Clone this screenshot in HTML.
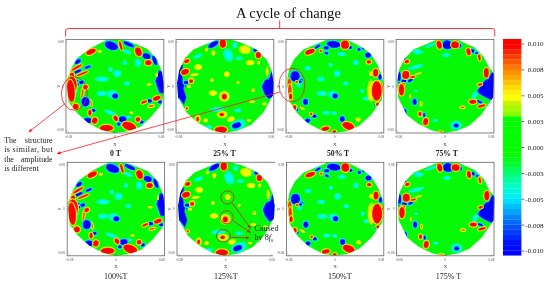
<!DOCTYPE html>
<html><head><meta charset="utf-8"><title>A cycle of change</title>
<style>
html,body{margin:0;padding:0;background:#fff;}
body{width:550px;height:286px;overflow:hidden;}
svg{display:block;font-family:"Liberation Serif","DejaVu Serif",serif;}
</style></head><body>
<svg width="550" height="286" viewBox="0 0 550 286">
<rect width="550" height="286" fill="#fff"/>
<defs>
<radialGradient id="gr"><stop offset="0" stop-color="#ff0000"/><stop offset="0.55" stop-color="#ff0000"/><stop offset="0.68" stop-color="#ff7000"/><stop offset="0.8" stop-color="#ffe800"/><stop offset="0.9" stop-color="#a0ff00"/><stop offset="1" stop-color="#30ff00" stop-opacity="0"/></radialGradient>
<radialGradient id="go"><stop offset="0" stop-color="#ff3000"/><stop offset="0.35" stop-color="#ff6000"/><stop offset="0.65" stop-color="#ffe000"/><stop offset="0.85" stop-color="#a0ff00"/><stop offset="1" stop-color="#30ff00" stop-opacity="0"/></radialGradient>
<radialGradient id="gb"><stop offset="0" stop-color="#0000ff"/><stop offset="0.58" stop-color="#0000ff"/><stop offset="0.7" stop-color="#0080ff"/><stop offset="0.82" stop-color="#00f0ff"/><stop offset="0.92" stop-color="#00ffa0"/><stop offset="1" stop-color="#00ff40" stop-opacity="0"/></radialGradient>
<radialGradient id="gy"><stop offset="0" stop-color="#fff000"/><stop offset="0.55" stop-color="#f4f600"/><stop offset="0.8" stop-color="#a8ff00"/><stop offset="1" stop-color="#30ff00" stop-opacity="0"/></radialGradient>
<radialGradient id="gc"><stop offset="0" stop-color="#00ffff"/><stop offset="0.5" stop-color="#00ffe0"/><stop offset="0.8" stop-color="#00ff88"/><stop offset="1" stop-color="#00ff30" stop-opacity="0"/></radialGradient>
<filter id="bl" x="-5%" y="-5%" width="110%" height="110%"><feGaussianBlur stdDeviation="0.4"/></filter>
<marker id="ah" viewBox="0 0 10 10" refX="9" refY="5" markerWidth="5" markerHeight="5" orient="auto"><path d="M0,1 L10,5 L0,9 z" fill="#ff1a1a"/></marker>
<marker id="ah2" viewBox="0 0 10 10" refX="9" refY="5" markerWidth="5" markerHeight="5" orient="auto"><path d="M0,1 L10,5 L0,9 z" fill="#c8281a"/></marker>
</defs>
<g transform="translate(66.0,39.5)">
<clipPath id="cl1"><polygon points="41.4,0.1 54.5,0.1 62.1,1.4 80.6,9.0 90.5,18.9 95.9,32.0 97.7,45.0 97.7,51.4 95.9,64.5 85.0,77.6 74.1,87.4 61.0,92.0 47.9,93.5 34.8,90.2 21.7,83.0 10.8,73.2 2.5,62.3 1.0,47.0 1.0,40.7 5.4,28.7 10.8,18.9 23.9,9.0"/></clipPath>
<polygon points="41.4,0.1 54.5,0.1 62.1,1.4 80.6,9.0 90.5,18.9 95.9,32.0 97.7,45.0 97.7,51.4 95.9,64.5 85.0,77.6 74.1,87.4 61.0,92.0 47.9,93.5 34.8,90.2 21.7,83.0 10.8,73.2 2.5,62.3 1.0,47.0 1.0,40.7 5.4,28.7 10.8,18.9 23.9,9.0" fill="#06f906"/>
<g clip-path="url(#cl1)"><g filter="url(#bl)">
<polygon points="92.0,30.9 98.1,33.0 98.1,54.0 92.4,53.2 88.5,41.6 88.5,41.8" fill="#00e8ff" stroke="#00ffb0" stroke-width="1.0" stroke-linejoin="round"/>
<polygon points="92.0,30.9 98.1,33.0 98.1,54.0 92.4,53.2 88.5,41.6 88.5,41.8" fill="#0000ff" stroke="#0060ff" stroke-width="0.5" transform="translate(0.9,0)"/>
<ellipse cx="51.2" cy="34.1" rx="5.1" ry="4.4" fill="url(#gc)"/>
<ellipse cx="71.9" cy="23.2" rx="4.1" ry="5.1" fill="url(#gc)"/>
<ellipse cx="35.9" cy="39.6" rx="8.2" ry="3.2" fill="url(#gc)"/>
<ellipse cx="61.0" cy="44.0" rx="3.5" ry="2.8" fill="url(#gc)"/>
<ellipse cx="44.6" cy="29.8" rx="2.8" ry="2.8" fill="url(#gc)"/>
<ellipse cx="58.8" cy="23.2" rx="2.8" ry="2.8" fill="url(#gc)"/>
<ellipse cx="61.0" cy="12.3" rx="5.7" ry="2.5" fill="url(#gc)" transform="rotate(20 61.0 12.3)"/>
<ellipse cx="9.1" cy="52.5" rx="1.9" ry="7.0" fill="url(#gc)"/>
<ellipse cx="63.2" cy="77.6" rx="3.2" ry="1.9" fill="url(#gc)"/>
<ellipse cx="46.2" cy="54.9" rx="6.3" ry="5.1" fill="url(#gc)"/>
<ellipse cx="35.9" cy="54.0" rx="6.6" ry="3.2" fill="url(#gc)"/>
<ellipse cx="44.6" cy="73.2" rx="8.2" ry="2.5" fill="url(#gc)" transform="rotate(20 44.6 73.2)"/>
<ellipse cx="33.7" cy="11.9" rx="2.5" ry="1.9" fill="url(#gy)"/>
<ellipse cx="83.3" cy="45.0" rx="2.8" ry="1.6" fill="url(#gy)"/>
<ellipse cx="90.7" cy="35.2" rx="1.6" ry="2.8" fill="url(#gy)"/>
<ellipse cx="82.8" cy="44.9" rx="2.8" ry="1.3" fill="url(#gy)"/>
<ellipse cx="65.4" cy="73.2" rx="2.5" ry="1.6" fill="url(#gy)"/>
<g transform="rotate(10 16.7 52.5)"><ellipse cx="16.7" cy="52.5" rx="2.06" ry="7.30" fill="#a0ff00"/><ellipse cx="16.7" cy="52.5" rx="1.56" ry="6.80" fill="#ffe800"/><ellipse cx="16.7" cy="52.5" rx="0.96" ry="6.20" fill="#ff8a00"/><ellipse cx="16.7" cy="52.5" rx="0.46" ry="5.70" fill="#ff3000"/></g>
<g transform="rotate(-10 25.0 63.4)"><ellipse cx="25.0" cy="63.4" rx="1.84" ry="4.24" fill="#a0ff00"/><ellipse cx="25.0" cy="63.4" rx="1.34" ry="3.74" fill="#ffe800"/><ellipse cx="25.0" cy="63.4" rx="0.74" ry="3.14" fill="#ff8a00"/><ellipse cx="25.0" cy="63.4" rx="0.24" ry="2.64" fill="#ff3000"/></g>
<g transform="rotate(-10 85.2 66.5)"><ellipse cx="85.2" cy="66.5" rx="4.02" ry="2.06" fill="#a0ff00"/><ellipse cx="85.2" cy="66.5" rx="3.52" ry="1.56" fill="#ffe800"/><ellipse cx="85.2" cy="66.5" rx="2.92" ry="0.96" fill="#ff8a00"/><ellipse cx="85.2" cy="66.5" rx="2.42" ry="0.46" fill="#ff3000"/></g>
<g transform="rotate(20 45.3 6.2)"><ellipse cx="45.3" cy="6.2" rx="7.98" ry="5.15" fill="#00ff90"/><ellipse cx="45.3" cy="6.2" rx="7.53" ry="4.70" fill="#00f0ff"/><ellipse cx="45.3" cy="6.2" rx="7.05" ry="4.22" fill="#0088ff"/><ellipse cx="45.3" cy="6.2" rx="6.63" ry="3.80" fill="#0000ff"/></g>
<g transform="rotate(25 62.8 4.9)"><ellipse cx="62.8" cy="4.9" rx="6.89" ry="2.96" fill="#00ff90"/><ellipse cx="62.8" cy="4.9" rx="6.44" ry="2.51" fill="#00f0ff"/><ellipse cx="62.8" cy="4.9" rx="5.96" ry="2.03" fill="#0088ff"/><ellipse cx="62.8" cy="4.9" rx="5.54" ry="1.61" fill="#0000ff"/></g>
<g transform="rotate(20 80.6 16.7)"><ellipse cx="80.6" cy="16.7" rx="5.15" ry="4.05" fill="#00ff90"/><ellipse cx="80.6" cy="16.7" rx="4.70" ry="3.60" fill="#00f0ff"/><ellipse cx="80.6" cy="16.7" rx="4.22" ry="3.12" fill="#0088ff"/><ellipse cx="80.6" cy="16.7" rx="3.80" ry="2.70" fill="#0000ff"/></g>
<g transform="rotate(-20 88.7 21.0)"><ellipse cx="88.7" cy="21.0" rx="2.96" ry="6.24" fill="#00ff90"/><ellipse cx="88.7" cy="21.0" rx="2.51" ry="5.79" fill="#00f0ff"/><ellipse cx="88.7" cy="21.0" rx="2.03" ry="5.31" fill="#0088ff"/><ellipse cx="88.7" cy="21.0" rx="1.61" ry="4.89" fill="#0000ff"/></g>
<g transform="rotate(-35 11.9 22.1)"><ellipse cx="11.9" cy="22.1" rx="4.49" ry="2.96" fill="#00ff90"/><ellipse cx="11.9" cy="22.1" rx="4.04" ry="2.51" fill="#00f0ff"/><ellipse cx="11.9" cy="22.1" rx="3.56" ry="2.03" fill="#0088ff"/><ellipse cx="11.9" cy="22.1" rx="3.14" ry="1.61" fill="#0000ff"/></g>
<g transform="rotate(-25 11.5 32.0)"><ellipse cx="11.5" cy="32.0" rx="5.36" ry="2.53" fill="#00ff90"/><ellipse cx="11.5" cy="32.0" rx="4.91" ry="2.08" fill="#00f0ff"/><ellipse cx="11.5" cy="32.0" rx="4.43" ry="1.60" fill="#0088ff"/><ellipse cx="11.5" cy="32.0" rx="4.01" ry="1.18" fill="#0000ff"/></g>
<g transform="rotate(-20 21.7 27.6)"><ellipse cx="21.7" cy="27.6" rx="4.49" ry="2.31" fill="#00ff90"/><ellipse cx="21.7" cy="27.6" rx="4.04" ry="1.86" fill="#00f0ff"/><ellipse cx="21.7" cy="27.6" rx="3.56" ry="1.38" fill="#0088ff"/><ellipse cx="21.7" cy="27.6" rx="3.14" ry="0.96" fill="#0000ff"/></g>
<g><ellipse cx="10.4" cy="42.0" rx="3.40" ry="2.96" fill="#00ff90"/><ellipse cx="10.4" cy="42.0" rx="2.95" ry="2.51" fill="#00f0ff"/><ellipse cx="10.4" cy="42.0" rx="2.47" ry="2.03" fill="#0088ff"/><ellipse cx="10.4" cy="42.0" rx="2.05" ry="1.61" fill="#0000ff"/></g>
<g transform="rotate(-20 15.2 42.9)"><ellipse cx="15.2" cy="42.9" rx="4.05" ry="2.75" fill="#00ff90"/><ellipse cx="15.2" cy="42.9" rx="3.60" ry="2.30" fill="#00f0ff"/><ellipse cx="15.2" cy="42.9" rx="3.12" ry="1.82" fill="#0088ff"/><ellipse cx="15.2" cy="42.9" rx="2.70" ry="1.40" fill="#0000ff"/></g>
<g><ellipse cx="10.2" cy="49.7" rx="2.09" ry="2.96" fill="#00ff90"/><ellipse cx="10.2" cy="49.7" rx="1.64" ry="2.51" fill="#00f0ff"/><ellipse cx="10.2" cy="49.7" rx="1.16" ry="2.03" fill="#0088ff"/><ellipse cx="10.2" cy="49.7" rx="0.74" ry="1.61" fill="#0000ff"/></g>
<g><ellipse cx="10.8" cy="44.9" rx="3.18" ry="2.75" fill="#00ff90"/><ellipse cx="10.8" cy="44.9" rx="2.73" ry="2.30" fill="#00f0ff"/><ellipse cx="10.8" cy="44.9" rx="2.25" ry="1.82" fill="#0088ff"/><ellipse cx="10.8" cy="44.9" rx="1.83" ry="1.40" fill="#0000ff"/></g>
<g><ellipse cx="19.5" cy="62.3" rx="5.15" ry="5.80" fill="#00ff90"/><ellipse cx="19.5" cy="62.3" rx="4.70" ry="5.35" fill="#00f0ff"/><ellipse cx="19.5" cy="62.3" rx="4.22" ry="4.87" fill="#0088ff"/><ellipse cx="19.5" cy="62.3" rx="3.80" ry="4.45" fill="#0000ff"/></g>
<g><ellipse cx="21.7" cy="81.1" rx="5.15" ry="4.05" fill="#00ff90"/><ellipse cx="21.7" cy="81.1" rx="4.70" ry="3.60" fill="#00f0ff"/><ellipse cx="21.7" cy="81.1" rx="4.22" ry="3.12" fill="#0088ff"/><ellipse cx="21.7" cy="81.1" rx="3.80" ry="2.70" fill="#0000ff"/></g>
<g><ellipse cx="27.4" cy="71.0" rx="3.18" ry="2.75" fill="#00ff90"/><ellipse cx="27.4" cy="71.0" rx="2.73" ry="2.30" fill="#00f0ff"/><ellipse cx="27.4" cy="71.0" rx="2.25" ry="1.82" fill="#0088ff"/><ellipse cx="27.4" cy="71.0" rx="1.83" ry="1.40" fill="#0000ff"/></g>
<g><ellipse cx="56.6" cy="79.8" rx="4.93" ry="4.27" fill="#00ff90"/><ellipse cx="56.6" cy="79.8" rx="4.48" ry="3.82" fill="#00f0ff"/><ellipse cx="56.6" cy="79.8" rx="4.00" ry="3.34" fill="#0088ff"/><ellipse cx="56.6" cy="79.8" rx="3.58" ry="2.92" fill="#0000ff"/></g>
<g><ellipse cx="52.7" cy="84.6" rx="2.96" ry="2.75" fill="#00ff90"/><ellipse cx="52.7" cy="84.6" rx="2.51" ry="2.30" fill="#00f0ff"/><ellipse cx="52.7" cy="84.6" rx="2.03" ry="1.82" fill="#0088ff"/><ellipse cx="52.7" cy="84.6" rx="1.61" ry="1.40" fill="#0000ff"/></g>
<g><ellipse cx="75.6" cy="82.6" rx="3.18" ry="2.75" fill="#00ff90"/><ellipse cx="75.6" cy="82.6" rx="2.73" ry="2.30" fill="#00f0ff"/><ellipse cx="75.6" cy="82.6" rx="2.25" ry="1.82" fill="#0088ff"/><ellipse cx="75.6" cy="82.6" rx="1.83" ry="1.40" fill="#0000ff"/></g>
<g><ellipse cx="49.2" cy="56.4" rx="4.05" ry="3.62" fill="#00ff90"/><ellipse cx="49.2" cy="56.4" rx="3.60" ry="3.17" fill="#00f0ff"/><ellipse cx="49.2" cy="56.4" rx="3.12" ry="2.69" fill="#0088ff"/><ellipse cx="49.2" cy="56.4" rx="2.70" ry="2.27" fill="#0000ff"/></g>
<g><ellipse cx="83.3" cy="61.4" rx="3.84" ry="2.75" fill="#00ff90"/><ellipse cx="83.3" cy="61.4" rx="3.39" ry="2.30" fill="#00f0ff"/><ellipse cx="83.3" cy="61.4" rx="2.91" ry="1.82" fill="#0088ff"/><ellipse cx="83.3" cy="61.4" rx="2.49" ry="1.40" fill="#0000ff"/></g>
<g><ellipse cx="94.0" cy="62.5" rx="3.18" ry="2.75" fill="#00ff90"/><ellipse cx="94.0" cy="62.5" rx="2.73" ry="2.30" fill="#00f0ff"/><ellipse cx="94.0" cy="62.5" rx="2.25" ry="1.82" fill="#0088ff"/><ellipse cx="94.0" cy="62.5" rx="1.83" ry="1.40" fill="#0000ff"/></g>
<g transform="rotate(-15 54.7 6.2)"><ellipse cx="54.7" cy="6.2" rx="2.31" ry="5.80" fill="#a0ff00"/><ellipse cx="54.7" cy="6.2" rx="1.86" ry="5.35" fill="#ffe800"/><ellipse cx="54.7" cy="6.2" rx="1.38" ry="4.87" fill="#ff7800"/><ellipse cx="54.7" cy="6.2" rx="0.96" ry="4.45" fill="#ff0000"/></g>
<g transform="rotate(-20 72.4 12.3)"><ellipse cx="72.4" cy="12.3" rx="4.27" ry="5.58" fill="#a0ff00"/><ellipse cx="72.4" cy="12.3" rx="3.82" ry="5.13" fill="#ffe800"/><ellipse cx="72.4" cy="12.3" rx="3.34" ry="4.65" fill="#ff7800"/><ellipse cx="72.4" cy="12.3" rx="2.92" ry="4.23" fill="#ff0000"/></g>
<g><ellipse cx="82.4" cy="23.2" rx="4.27" ry="3.62" fill="#a0ff00"/><ellipse cx="82.4" cy="23.2" rx="3.82" ry="3.17" fill="#ffe800"/><ellipse cx="82.4" cy="23.2" rx="3.34" ry="2.69" fill="#ff7800"/><ellipse cx="82.4" cy="23.2" rx="2.92" ry="2.27" fill="#ff0000"/></g>
<g transform="rotate(-25 25.0 12.3)"><ellipse cx="25.0" cy="12.3" rx="6.24" ry="3.62" fill="#a0ff00"/><ellipse cx="25.0" cy="12.3" rx="5.79" ry="3.17" fill="#ffe800"/><ellipse cx="25.0" cy="12.3" rx="5.31" ry="2.69" fill="#ff7800"/><ellipse cx="25.0" cy="12.3" rx="4.89" ry="2.27" fill="#ff0000"/></g>
<g transform="rotate(-30 10.8 28.0)"><ellipse cx="10.8" cy="28.0" rx="7.11" ry="2.31" fill="#a0ff00"/><ellipse cx="10.8" cy="28.0" rx="6.66" ry="1.86" fill="#ffe800"/><ellipse cx="10.8" cy="28.0" rx="6.18" ry="1.38" fill="#ff7800"/><ellipse cx="10.8" cy="28.0" rx="5.76" ry="0.96" fill="#ff0000"/></g>
<g transform="rotate(-22 16.3 34.1)"><ellipse cx="16.3" cy="34.1" rx="7.11" ry="2.09" fill="#a0ff00"/><ellipse cx="16.3" cy="34.1" rx="6.66" ry="1.64" fill="#ffe800"/><ellipse cx="16.3" cy="34.1" rx="6.18" ry="1.16" fill="#ff7800"/><ellipse cx="16.3" cy="34.1" rx="5.76" ry="0.74" fill="#ff0000"/></g>
<g><ellipse cx="6.0" cy="35.2" rx="3.18" ry="3.18" fill="#a0ff00"/><ellipse cx="6.0" cy="35.2" rx="2.73" ry="2.73" fill="#ffe800"/><ellipse cx="6.0" cy="35.2" rx="2.25" ry="2.25" fill="#ff7800"/><ellipse cx="6.0" cy="35.2" rx="1.83" ry="1.83" fill="#ff0000"/></g>
<g><ellipse cx="5.6" cy="46.1" rx="6.24" ry="10.16" fill="#a0ff00"/><ellipse cx="5.6" cy="46.1" rx="5.79" ry="9.71" fill="#ffe800"/><ellipse cx="5.6" cy="46.1" rx="5.31" ry="9.23" fill="#ff7800"/><ellipse cx="5.6" cy="46.1" rx="4.89" ry="8.81" fill="#ff0000"/></g>
<g transform="rotate(-30 19.5 47.7)"><ellipse cx="19.5" cy="47.7" rx="3.62" ry="3.18" fill="#a0ff00"/><ellipse cx="19.5" cy="47.7" rx="3.17" ry="2.73" fill="#ffe800"/><ellipse cx="19.5" cy="47.7" rx="2.69" ry="2.25" fill="#ff7800"/><ellipse cx="19.5" cy="47.7" rx="2.27" ry="1.83" fill="#ff0000"/></g>
<g transform="rotate(-5 4.9 51.4)"><ellipse cx="4.9" cy="51.4" rx="4.93" ry="12.35" fill="#a0ff00"/><ellipse cx="4.9" cy="51.4" rx="4.48" ry="11.90" fill="#ffe800"/><ellipse cx="4.9" cy="51.4" rx="4.00" ry="11.42" fill="#ff7800"/><ellipse cx="4.9" cy="51.4" rx="3.58" ry="11.00" fill="#ff0000"/></g>
<g><ellipse cx="9.7" cy="67.1" rx="4.05" ry="4.05" fill="#a0ff00"/><ellipse cx="9.7" cy="67.1" rx="3.60" ry="3.60" fill="#ffe800"/><ellipse cx="9.7" cy="67.1" rx="3.12" ry="3.12" fill="#ff7800"/><ellipse cx="9.7" cy="67.1" rx="2.70" ry="2.70" fill="#ff0000"/></g>
<g transform="rotate(20 28.7 81.1)"><ellipse cx="28.7" cy="81.1" rx="3.84" ry="4.27" fill="#a0ff00"/><ellipse cx="28.7" cy="81.1" rx="3.39" ry="3.82" fill="#ffe800"/><ellipse cx="28.7" cy="81.1" rx="2.91" ry="3.34" fill="#ff7800"/><ellipse cx="28.7" cy="81.1" rx="2.49" ry="2.92" fill="#ff0000"/></g>
<g><ellipse cx="23.9" cy="73.2" rx="2.75" ry="4.05" fill="#a0ff00"/><ellipse cx="23.9" cy="73.2" rx="2.30" ry="3.60" fill="#ffe800"/><ellipse cx="23.9" cy="73.2" rx="1.82" ry="3.12" fill="#ff7800"/><ellipse cx="23.9" cy="73.2" rx="1.40" ry="2.70" fill="#ff0000"/></g>
<g><ellipse cx="40.5" cy="88.5" rx="7.98" ry="4.27" fill="#a0ff00"/><ellipse cx="40.5" cy="88.5" rx="7.53" ry="3.82" fill="#ffe800"/><ellipse cx="40.5" cy="88.5" rx="7.05" ry="3.34" fill="#ff7800"/><ellipse cx="40.5" cy="88.5" rx="6.63" ry="2.92" fill="#ff0000"/></g>
<g transform="rotate(20 63.2 86.8)"><ellipse cx="63.2" cy="86.8" rx="8.42" ry="5.15" fill="#a0ff00"/><ellipse cx="63.2" cy="86.8" rx="7.97" ry="4.70" fill="#ffe800"/><ellipse cx="63.2" cy="86.8" rx="7.49" ry="4.22" fill="#ff7800"/><ellipse cx="63.2" cy="86.8" rx="7.07" ry="3.80" fill="#ff0000"/></g>
<g transform="rotate(-30 49.7 78.9)"><ellipse cx="49.7" cy="78.9" rx="3.18" ry="4.05" fill="#a0ff00"/><ellipse cx="49.7" cy="78.9" rx="2.73" ry="3.60" fill="#ffe800"/><ellipse cx="49.7" cy="78.9" rx="2.25" ry="3.12" fill="#ff7800"/><ellipse cx="49.7" cy="78.9" rx="1.83" ry="2.70" fill="#ff0000"/></g>
<g><ellipse cx="71.9" cy="80.0" rx="3.40" ry="3.40" fill="#a0ff00"/><ellipse cx="71.9" cy="80.0" rx="2.95" ry="2.95" fill="#ffe800"/><ellipse cx="71.9" cy="80.0" rx="2.47" ry="2.47" fill="#ff7800"/><ellipse cx="71.9" cy="80.0" rx="2.05" ry="2.05" fill="#ff0000"/></g>
<g transform="rotate(-20 90.7 58.8)"><ellipse cx="90.7" cy="58.8" rx="5.15" ry="3.18" fill="#a0ff00"/><ellipse cx="90.7" cy="58.8" rx="4.70" ry="2.73" fill="#ffe800"/><ellipse cx="90.7" cy="58.8" rx="4.22" ry="2.25" fill="#ff7800"/><ellipse cx="90.7" cy="58.8" rx="3.80" ry="1.83" fill="#ff0000"/></g>
<g transform="rotate(-20 78.0 62.5)"><ellipse cx="78.0" cy="62.5" rx="4.27" ry="2.31" fill="#a0ff00"/><ellipse cx="78.0" cy="62.5" rx="3.82" ry="1.86" fill="#ffe800"/><ellipse cx="78.0" cy="62.5" rx="3.34" ry="1.38" fill="#ff7800"/><ellipse cx="78.0" cy="62.5" rx="2.92" ry="0.96" fill="#ff0000"/></g>
</g></g>
<rect x="0" y="0" width="97.8" height="93.5" fill="none" stroke="#666" stroke-width="0.8"/>
<line x1="2.6" y1="93.5" x2="2.6" y2="92.2" stroke="#666" stroke-width="0.5"/>
<line x1="48.9" y1="93.5" x2="48.9" y2="92.2" stroke="#666" stroke-width="0.5"/>
<line x1="95.2" y1="93.5" x2="95.2" y2="92.2" stroke="#666" stroke-width="0.5"/>
<line x1="0" y1="2.6" x2="1.3" y2="2.6" stroke="#666" stroke-width="0.5"/>
<line x1="0" y1="46.8" x2="1.3" y2="46.8" stroke="#666" stroke-width="0.5"/>
<line x1="0" y1="90.9" x2="1.3" y2="90.9" stroke="#666" stroke-width="0.5"/>
<text x="-2.2" y="3.6" text-anchor="end" font-size="3.4" fill="#555">0.08</text>
<text x="-2.2" y="48.0" text-anchor="end" font-size="3.4" fill="#555">0</text>
<text x="-2.2" y="91.9" text-anchor="end" font-size="3.4" fill="#555">-0.08</text>
<text x="2.6" y="98.4" text-anchor="middle" font-size="3.4" fill="#555">-0.08</text>
<text x="48.9" y="98.4" text-anchor="middle" font-size="3.4" fill="#555">0</text>
<text x="95.2" y="98.4" text-anchor="middle" font-size="3.4" fill="#555">0.08</text>
<text x="48.9" y="106.1" text-anchor="middle" font-size="4.6" fill="#333">X</text>
<text transform="translate(-6.2,46.8) rotate(-90)" text-anchor="middle" font-size="4.2" fill="#444">Y</text>
</g>
<g transform="translate(176.0,39.5)">
<clipPath id="cl2"><polygon points="41.4,0.1 54.5,0.1 65.4,3.2 80.6,10.1 90.5,20.0 95.9,32.0 97.7,45.0 97.7,40.5 97.0,55.8 87.2,73.2 75.2,85.2 61.0,91.3 47.9,93.5 35.9,90.7 21.7,83.0 10.8,73.2 2.1,58.0 1.0,40.5 1.0,45.0 3.2,30.9 8.6,18.9 17.4,10.1"/></clipPath>
<polygon points="41.4,0.1 54.5,0.1 65.4,3.2 80.6,10.1 90.5,20.0 95.9,32.0 97.7,45.0 97.7,40.5 97.0,55.8 87.2,73.2 75.2,85.2 61.0,91.3 47.9,93.5 35.9,90.7 21.7,83.0 10.8,73.2 2.1,58.0 1.0,40.5 1.0,45.0 3.2,30.9 8.6,18.9 17.4,10.1" fill="#06f906"/>
<g clip-path="url(#cl2)"><g filter="url(#bl)">
<polygon points="94.2,33.0 98.1,32.0 98.1,56.2 91.6,59.3 87.2,53.6 85.0,47.0 88.3,40.5 92.4,38.9" fill="#00e8ff" stroke="#00ffb0" stroke-width="1.0" stroke-linejoin="round"/>
<polygon points="94.2,33.0 98.1,32.0 98.1,56.2 91.6,59.3 87.2,53.6 85.0,47.0 88.3,40.5 92.4,38.9" fill="#0000ff" stroke="#0060ff" stroke-width="0.5" transform="translate(0.9,0)"/>
<polygon points="6.0,25.4 -1.2,25.4 -1.2,58.0 2.5,58.8 6.9,64.9 9.3,58.0 6.5,49.2 8.2,40.5 9.1,47.7 6.0,42.9 4.7,34.1" fill="#00e8ff" stroke="#00ffb0" stroke-width="1.0" stroke-linejoin="round"/>
<polygon points="6.0,25.4 -1.2,25.4 -1.2,58.0 2.5,58.8 6.9,64.9 9.3,58.0 6.5,49.2 8.2,40.5 9.1,47.7 6.0,42.9 4.7,34.1" fill="#0000ff" stroke="#0060ff" stroke-width="0.5" transform="translate(0.9,0)"/>
<ellipse cx="52.3" cy="15.6" rx="5.7" ry="8.2" fill="url(#gc)" transform="rotate(-20 52.3 15.6)"/>
<ellipse cx="58.8" cy="5.8" rx="3.2" ry="3.8" fill="url(#gc)"/>
<ellipse cx="21.7" cy="16.7" rx="5.7" ry="2.5" fill="url(#gc)" transform="rotate(-20 21.7 16.7)"/>
<ellipse cx="63.2" cy="18.9" rx="4.4" ry="2.5" fill="url(#gc)"/>
<ellipse cx="62.1" cy="85.2" rx="10.1" ry="6.3" fill="url(#gc)" transform="rotate(-20 62.1 85.2)"/>
<ellipse cx="41.4" cy="70.0" rx="8.2" ry="3.2" fill="url(#gc)"/>
<ellipse cx="62.1" cy="71.0" rx="4.4" ry="2.5" fill="url(#gc)"/>
<ellipse cx="32.6" cy="87.4" rx="4.4" ry="2.5" fill="url(#gc)"/>
<ellipse cx="68.9" cy="10.1" rx="7.0" ry="5.1" fill="url(#gy)" transform="rotate(10 68.9 10.1)"/>
<ellipse cx="74.1" cy="23.2" rx="5.1" ry="3.2" fill="url(#gy)"/>
<ellipse cx="37.4" cy="13.4" rx="2.5" ry="3.2" fill="url(#gy)"/>
<ellipse cx="22.2" cy="27.6" rx="4.7" ry="3.5" fill="url(#gy)"/>
<ellipse cx="50.7" cy="34.8" rx="3.5" ry="3.5" fill="url(#gy)"/>
<ellipse cx="35.9" cy="40.7" rx="2.2" ry="2.2" fill="url(#gy)"/>
<ellipse cx="91.1" cy="32.0" rx="1.9" ry="5.7" fill="url(#gy)"/>
<ellipse cx="62.1" cy="42.9" rx="1.9" ry="1.9" fill="url(#gy)"/>
<ellipse cx="30.5" cy="10.1" rx="1.9" ry="2.5" fill="url(#gy)"/>
<ellipse cx="82.8" cy="23.2" rx="1.9" ry="2.5" fill="url(#gy)"/>
<ellipse cx="18.5" cy="35.2" rx="5.1" ry="1.9" fill="url(#gy)" transform="rotate(-10 18.5 35.2)"/>
<ellipse cx="48.3" cy="56.9" rx="6.3" ry="6.3" fill="url(#gy)"/>
<ellipse cx="37.0" cy="53.6" rx="5.1" ry="3.2" fill="url(#gy)"/>
<ellipse cx="46.2" cy="75.0" rx="6.3" ry="4.4" fill="url(#gy)"/>
<ellipse cx="54.9" cy="79.8" rx="4.7" ry="3.2" fill="url(#gy)" transform="rotate(-20 54.9 79.8)"/>
<ellipse cx="21.7" cy="79.3" rx="3.8" ry="5.1" fill="url(#gy)"/>
<ellipse cx="29.6" cy="80.9" rx="2.8" ry="2.5" fill="url(#gy)"/>
<ellipse cx="77.4" cy="51.0" rx="2.2" ry="2.2" fill="url(#gy)"/>
<ellipse cx="76.3" cy="62.3" rx="3.5" ry="1.9" fill="url(#gy)"/>
<ellipse cx="88.3" cy="64.5" rx="2.8" ry="1.9" fill="url(#gy)"/>
<ellipse cx="73.0" cy="80.9" rx="2.8" ry="1.6" fill="url(#gy)"/>
<ellipse cx="13.0" cy="47.0" rx="2.5" ry="1.9" fill="url(#gy)"/>
<g><ellipse cx="77.4" cy="50.5" rx="1.84" ry="1.84" fill="#a0ff00"/><ellipse cx="77.4" cy="50.5" rx="1.34" ry="1.34" fill="#ffe800"/><ellipse cx="77.4" cy="50.5" rx="0.74" ry="0.74" fill="#ff8a00"/><ellipse cx="77.4" cy="50.5" rx="0.24" ry="0.24" fill="#ff3000"/></g>
<g transform="rotate(-30 37.4 4.9)"><ellipse cx="37.4" cy="4.9" rx="6.89" ry="3.62" fill="#00ff90"/><ellipse cx="37.4" cy="4.9" rx="6.44" ry="3.17" fill="#00f0ff"/><ellipse cx="37.4" cy="4.9" rx="5.96" ry="2.69" fill="#0088ff"/><ellipse cx="37.4" cy="4.9" rx="5.54" ry="2.27" fill="#0000ff"/></g>
<g transform="rotate(40 79.3 11.2)"><ellipse cx="79.3" cy="11.2" rx="3.62" ry="2.53" fill="#00ff90"/><ellipse cx="79.3" cy="11.2" rx="3.17" ry="2.08" fill="#00f0ff"/><ellipse cx="79.3" cy="11.2" rx="2.69" ry="1.60" fill="#0088ff"/><ellipse cx="79.3" cy="11.2" rx="2.27" ry="1.18" fill="#0000ff"/></g>
<g><ellipse cx="10.2" cy="42.9" rx="3.62" ry="2.75" fill="#00ff90"/><ellipse cx="10.2" cy="42.9" rx="3.17" ry="2.30" fill="#00f0ff"/><ellipse cx="10.2" cy="42.9" rx="2.69" ry="1.82" fill="#0088ff"/><ellipse cx="10.2" cy="42.9" rx="2.27" ry="1.40" fill="#0000ff"/></g>
<g transform="rotate(-20 60.6 85.9)"><ellipse cx="60.6" cy="85.9" rx="5.80" ry="3.84" fill="#00ff90"/><ellipse cx="60.6" cy="85.9" rx="5.35" ry="3.39" fill="#00f0ff"/><ellipse cx="60.6" cy="85.9" rx="4.87" ry="2.91" fill="#0088ff"/><ellipse cx="60.6" cy="85.9" rx="4.45" ry="2.49" fill="#0000ff"/></g>
<g><ellipse cx="46.8" cy="4.0" rx="4.27" ry="5.36" fill="#a0ff00"/><ellipse cx="46.8" cy="4.0" rx="3.82" ry="4.91" fill="#ffe800"/><ellipse cx="46.8" cy="4.0" rx="3.34" ry="4.43" fill="#ff7800"/><ellipse cx="46.8" cy="4.0" rx="2.92" ry="4.01" fill="#ff0000"/></g>
<g><ellipse cx="82.4" cy="15.6" rx="3.84" ry="4.27" fill="#a0ff00"/><ellipse cx="82.4" cy="15.6" rx="3.39" ry="3.82" fill="#ffe800"/><ellipse cx="82.4" cy="15.6" rx="2.91" ry="3.34" fill="#ff7800"/><ellipse cx="82.4" cy="15.6" rx="2.49" ry="2.92" fill="#ff0000"/></g>
<g transform="rotate(-20 10.8 21.7)"><ellipse cx="10.8" cy="21.7" rx="3.84" ry="2.96" fill="#a0ff00"/><ellipse cx="10.8" cy="21.7" rx="3.39" ry="2.51" fill="#ffe800"/><ellipse cx="10.8" cy="21.7" rx="2.91" ry="2.03" fill="#ff7800"/><ellipse cx="10.8" cy="21.7" rx="2.49" ry="1.61" fill="#ff0000"/></g>
<g transform="rotate(-20 9.1 32.4)"><ellipse cx="9.1" cy="32.4" rx="5.15" ry="3.84" fill="#a0ff00"/><ellipse cx="9.1" cy="32.4" rx="4.70" ry="3.39" fill="#ffe800"/><ellipse cx="9.1" cy="32.4" rx="4.22" ry="2.91" fill="#ff7800"/><ellipse cx="9.1" cy="32.4" rx="3.80" ry="2.49" fill="#ff0000"/></g>
<g><ellipse cx="15.2" cy="41.1" rx="3.18" ry="3.40" fill="#a0ff00"/><ellipse cx="15.2" cy="41.1" rx="2.73" ry="2.95" fill="#ffe800"/><ellipse cx="15.2" cy="41.1" rx="2.25" ry="2.47" fill="#ff7800"/><ellipse cx="15.2" cy="41.1" rx="1.83" ry="2.05" fill="#ff0000"/></g>
<g><ellipse cx="48.3" cy="57.1" rx="3.62" ry="4.05" fill="#a0ff00"/><ellipse cx="48.3" cy="57.1" rx="3.17" ry="3.60" fill="#ffe800"/><ellipse cx="48.3" cy="57.1" rx="2.69" ry="3.12" fill="#ff7800"/><ellipse cx="48.3" cy="57.1" rx="2.27" ry="2.70" fill="#ff0000"/></g>
<g><ellipse cx="45.7" cy="75.0" rx="3.40" ry="2.96" fill="#a0ff00"/><ellipse cx="45.7" cy="75.0" rx="2.95" ry="2.51" fill="#ffe800"/><ellipse cx="45.7" cy="75.0" rx="2.47" ry="2.03" fill="#ff7800"/><ellipse cx="45.7" cy="75.0" rx="2.05" ry="1.61" fill="#ff0000"/></g>
<g><ellipse cx="21.7" cy="79.6" rx="2.53" ry="3.40" fill="#a0ff00"/><ellipse cx="21.7" cy="79.6" rx="2.08" ry="2.95" fill="#ffe800"/><ellipse cx="21.7" cy="79.6" rx="1.60" ry="2.47" fill="#ff7800"/><ellipse cx="21.7" cy="79.6" rx="1.18" ry="2.05" fill="#ff0000"/></g>
<g><ellipse cx="44.9" cy="90.2" rx="7.33" ry="4.27" fill="#a0ff00"/><ellipse cx="44.9" cy="90.2" rx="6.88" ry="3.82" fill="#ffe800"/><ellipse cx="44.9" cy="90.2" rx="6.40" ry="3.34" fill="#ff7800"/><ellipse cx="44.9" cy="90.2" rx="5.98" ry="2.92" fill="#ff0000"/></g>
<g><ellipse cx="15.2" cy="41.6" rx="3.18" ry="2.96" fill="#a0ff00"/><ellipse cx="15.2" cy="41.6" rx="2.73" ry="2.51" fill="#ffe800"/><ellipse cx="15.2" cy="41.6" rx="2.25" ry="2.03" fill="#ff7800"/><ellipse cx="15.2" cy="41.6" rx="1.83" ry="1.61" fill="#ff0000"/></g>
<g><ellipse cx="10.8" cy="68.9" rx="2.09" ry="2.31" fill="#a0ff00"/><ellipse cx="10.8" cy="68.9" rx="1.64" ry="1.86" fill="#ffe800"/><ellipse cx="10.8" cy="68.9" rx="1.16" ry="1.38" fill="#ff7800"/><ellipse cx="10.8" cy="68.9" rx="0.74" ry="0.96" fill="#ff0000"/></g>
</g></g>
<rect x="0" y="0" width="97.8" height="93.5" fill="none" stroke="#666" stroke-width="0.8"/>
<line x1="2.6" y1="93.5" x2="2.6" y2="92.2" stroke="#666" stroke-width="0.5"/>
<line x1="48.9" y1="93.5" x2="48.9" y2="92.2" stroke="#666" stroke-width="0.5"/>
<line x1="95.2" y1="93.5" x2="95.2" y2="92.2" stroke="#666" stroke-width="0.5"/>
<line x1="0" y1="2.6" x2="1.3" y2="2.6" stroke="#666" stroke-width="0.5"/>
<line x1="0" y1="46.8" x2="1.3" y2="46.8" stroke="#666" stroke-width="0.5"/>
<line x1="0" y1="90.9" x2="1.3" y2="90.9" stroke="#666" stroke-width="0.5"/>
<text x="-2.2" y="3.6" text-anchor="end" font-size="3.4" fill="#555">0.08</text>
<text x="-2.2" y="48.0" text-anchor="end" font-size="3.4" fill="#555">0</text>
<text x="-2.2" y="91.9" text-anchor="end" font-size="3.4" fill="#555">-0.08</text>
<text x="2.6" y="98.4" text-anchor="middle" font-size="3.4" fill="#555">-0.08</text>
<text x="48.9" y="98.4" text-anchor="middle" font-size="3.4" fill="#555">0</text>
<text x="95.2" y="98.4" text-anchor="middle" font-size="3.4" fill="#555">0.08</text>
<text x="48.9" y="106.1" text-anchor="middle" font-size="4.6" fill="#333">X</text>
<text transform="translate(-6.2,46.8) rotate(-90)" text-anchor="middle" font-size="4.2" fill="#444">Y</text>
</g>
<g transform="translate(286.0,39.5)">
<clipPath id="cl3"><polygon points="41.4,0.1 61.0,0.1 76.3,8.0 85.0,14.5 91.6,25.4 95.9,36.3 97.7,47.2 97.7,40.5 95.9,60.1 85.0,75.4 73.0,86.3 61.0,91.8 47.9,93.5 35.9,91.1 21.7,83.7 10.8,73.2 3.2,61.2 1.0,40.5 1.0,40.7 3.2,29.8 8.6,18.9 17.4,10.1"/></clipPath>
<polygon points="41.4,0.1 61.0,0.1 76.3,8.0 85.0,14.5 91.6,25.4 95.9,36.3 97.7,47.2 97.7,40.5 95.9,60.1 85.0,75.4 73.0,86.3 61.0,91.8 47.9,93.5 35.9,91.1 21.7,83.7 10.8,73.2 3.2,61.2 1.0,40.5 1.0,40.7 3.2,29.8 8.6,18.9 17.4,10.1" fill="#06f906"/>
<g clip-path="url(#cl3)"><g filter="url(#bl)">
<ellipse cx="51.2" cy="34.1" rx="4.1" ry="4.1" fill="url(#gc)"/>
<ellipse cx="21.7" cy="28.7" rx="4.1" ry="2.8" fill="url(#gc)"/>
<ellipse cx="34.8" cy="39.6" rx="4.7" ry="2.8" fill="url(#gc)"/>
<ellipse cx="59.9" cy="44.0" rx="3.5" ry="2.5" fill="url(#gc)"/>
<ellipse cx="69.7" cy="23.2" rx="3.5" ry="3.5" fill="url(#gc)"/>
<ellipse cx="55.6" cy="14.5" rx="5.1" ry="2.8" fill="url(#gc)"/>
<ellipse cx="86.1" cy="42.9" rx="3.2" ry="2.5" fill="url(#gc)"/>
<ellipse cx="44.6" cy="25.4" rx="2.5" ry="2.5" fill="url(#gc)"/>
<ellipse cx="46.8" cy="54.9" rx="5.7" ry="4.4" fill="url(#gc)"/>
<ellipse cx="35.9" cy="54.0" rx="6.3" ry="3.2" fill="url(#gc)"/>
<ellipse cx="80.6" cy="59.0" rx="4.7" ry="2.5" fill="url(#gc)"/>
<ellipse cx="76.3" cy="51.4" rx="2.5" ry="2.5" fill="url(#gc)"/>
<ellipse cx="40.3" cy="73.2" rx="4.7" ry="2.5" fill="url(#gc)"/>
<ellipse cx="48.3" cy="73.7" rx="3.2" ry="2.5" fill="url(#gc)"/>
<ellipse cx="13.0" cy="46.0" rx="3.2" ry="2.5" fill="url(#gc)"/>
<ellipse cx="85.0" cy="34.1" rx="2.5" ry="3.2" fill="url(#gy)"/>
<ellipse cx="85.0" cy="51.4" rx="4.4" ry="12.7" fill="url(#gy)"/>
<ellipse cx="72.1" cy="80.0" rx="3.2" ry="2.5" fill="url(#gy)"/>
<ellipse cx="16.3" cy="68.9" rx="3.8" ry="1.6" fill="url(#gy)" transform="rotate(30 16.3 68.9)"/>
<g><ellipse cx="3.4" cy="45.0" rx="3.15" ry="7.30" fill="#a0ff00"/><ellipse cx="3.4" cy="45.0" rx="2.65" ry="6.80" fill="#ffe800"/><ellipse cx="3.4" cy="45.0" rx="2.05" ry="6.20" fill="#ff8a00"/><ellipse cx="3.4" cy="45.0" rx="1.55" ry="5.70" fill="#ff3000"/></g>
<g><ellipse cx="3.8" cy="52.5" rx="3.15" ry="9.04" fill="#a0ff00"/><ellipse cx="3.8" cy="52.5" rx="2.65" ry="8.54" fill="#ffe800"/><ellipse cx="3.8" cy="52.5" rx="2.05" ry="7.94" fill="#ff8a00"/><ellipse cx="3.8" cy="52.5" rx="1.55" ry="7.44" fill="#ff3000"/></g>
<g transform="rotate(5 47.5 4.9)"><ellipse cx="47.5" cy="4.9" rx="8.20" ry="4.49" fill="#00ff90"/><ellipse cx="47.5" cy="4.9" rx="7.75" ry="4.04" fill="#00f0ff"/><ellipse cx="47.5" cy="4.9" rx="7.27" ry="3.56" fill="#0088ff"/><ellipse cx="47.5" cy="4.9" rx="6.85" ry="3.14" fill="#0000ff"/></g>
<g><ellipse cx="40.3" cy="8.4" rx="3.84" ry="2.75" fill="#00ff90"/><ellipse cx="40.3" cy="8.4" rx="3.39" ry="2.30" fill="#00f0ff"/><ellipse cx="40.3" cy="8.4" rx="2.91" ry="1.82" fill="#0088ff"/><ellipse cx="40.3" cy="8.4" rx="2.49" ry="1.40" fill="#0000ff"/></g>
<g><ellipse cx="64.3" cy="8.0" rx="2.75" ry="2.75" fill="#00ff90"/><ellipse cx="64.3" cy="8.0" rx="2.30" ry="2.30" fill="#00f0ff"/><ellipse cx="64.3" cy="8.0" rx="1.82" ry="1.82" fill="#0088ff"/><ellipse cx="64.3" cy="8.0" rx="1.40" ry="1.40" fill="#0000ff"/></g>
<g transform="rotate(-30 31.5 7.1)"><ellipse cx="31.5" cy="7.1" rx="4.49" ry="2.31" fill="#00ff90"/><ellipse cx="31.5" cy="7.1" rx="4.04" ry="1.86" fill="#00f0ff"/><ellipse cx="31.5" cy="7.1" rx="3.56" ry="1.38" fill="#0088ff"/><ellipse cx="31.5" cy="7.1" rx="3.14" ry="0.96" fill="#0000ff"/></g>
<g transform="rotate(20 40.5 13.6)"><ellipse cx="40.5" cy="13.6" rx="3.18" ry="2.31" fill="#00ff90"/><ellipse cx="40.5" cy="13.6" rx="2.73" ry="1.86" fill="#00f0ff"/><ellipse cx="40.5" cy="13.6" rx="2.25" ry="1.38" fill="#0088ff"/><ellipse cx="40.5" cy="13.6" rx="1.83" ry="0.96" fill="#0000ff"/></g>
<g><ellipse cx="82.0" cy="15.6" rx="4.05" ry="3.62" fill="#00ff90"/><ellipse cx="82.0" cy="15.6" rx="3.60" ry="3.17" fill="#00f0ff"/><ellipse cx="82.0" cy="15.6" rx="3.12" ry="2.69" fill="#0088ff"/><ellipse cx="82.0" cy="15.6" rx="2.70" ry="2.27" fill="#0000ff"/></g>
<g><ellipse cx="73.0" cy="10.1" rx="2.75" ry="2.75" fill="#00ff90"/><ellipse cx="73.0" cy="10.1" rx="2.30" ry="2.30" fill="#00f0ff"/><ellipse cx="73.0" cy="10.1" rx="1.82" ry="1.82" fill="#0088ff"/><ellipse cx="73.0" cy="10.1" rx="1.40" ry="1.40" fill="#0000ff"/></g>
<g transform="rotate(20 77.4 8.8)"><ellipse cx="77.4" cy="8.8" rx="2.96" ry="2.09" fill="#00ff90"/><ellipse cx="77.4" cy="8.8" rx="2.51" ry="1.64" fill="#00f0ff"/><ellipse cx="77.4" cy="8.8" rx="2.03" ry="1.16" fill="#0088ff"/><ellipse cx="77.4" cy="8.8" rx="1.61" ry="0.74" fill="#0000ff"/></g>
<g><ellipse cx="94.0" cy="37.6" rx="2.75" ry="3.84" fill="#00ff90"/><ellipse cx="94.0" cy="37.6" rx="2.30" ry="3.39" fill="#00f0ff"/><ellipse cx="94.0" cy="37.6" rx="1.82" ry="2.91" fill="#0088ff"/><ellipse cx="94.0" cy="37.6" rx="1.40" ry="2.49" fill="#0000ff"/></g>
<g><ellipse cx="9.1" cy="36.8" rx="5.80" ry="6.45" fill="#00ff90"/><ellipse cx="9.1" cy="36.8" rx="5.35" ry="6.00" fill="#00f0ff"/><ellipse cx="9.1" cy="36.8" rx="4.87" ry="5.52" fill="#0088ff"/><ellipse cx="9.1" cy="36.8" rx="4.45" ry="5.10" fill="#0000ff"/></g>
<g><ellipse cx="15.2" cy="40.9" rx="2.96" ry="2.75" fill="#00ff90"/><ellipse cx="15.2" cy="40.9" rx="2.51" ry="2.30" fill="#00f0ff"/><ellipse cx="15.2" cy="40.9" rx="2.03" ry="1.82" fill="#0088ff"/><ellipse cx="15.2" cy="40.9" rx="1.61" ry="1.40" fill="#0000ff"/></g>
<g><ellipse cx="89.2" cy="65.8" rx="2.09" ry="2.09" fill="#00ff90"/><ellipse cx="89.2" cy="65.8" rx="1.64" ry="1.64" fill="#00f0ff"/><ellipse cx="89.2" cy="65.8" rx="1.16" ry="1.16" fill="#0088ff"/><ellipse cx="89.2" cy="65.8" rx="0.74" ry="0.74" fill="#0000ff"/></g>
<g><ellipse cx="49.2" cy="56.4" rx="3.84" ry="3.62" fill="#00ff90"/><ellipse cx="49.2" cy="56.4" rx="3.39" ry="3.17" fill="#00f0ff"/><ellipse cx="49.2" cy="56.4" rx="2.91" ry="2.69" fill="#0088ff"/><ellipse cx="49.2" cy="56.4" rx="2.49" ry="2.27" fill="#0000ff"/></g>
<g><ellipse cx="19.5" cy="62.3" rx="3.62" ry="4.27" fill="#00ff90"/><ellipse cx="19.5" cy="62.3" rx="3.17" ry="3.82" fill="#00f0ff"/><ellipse cx="19.5" cy="62.3" rx="2.69" ry="3.34" fill="#0088ff"/><ellipse cx="19.5" cy="62.3" rx="2.27" ry="2.92" fill="#0000ff"/></g>
<g><ellipse cx="21.7" cy="81.1" rx="3.62" ry="3.18" fill="#00ff90"/><ellipse cx="21.7" cy="81.1" rx="3.17" ry="2.73" fill="#00f0ff"/><ellipse cx="21.7" cy="81.1" rx="2.69" ry="2.25" fill="#0088ff"/><ellipse cx="21.7" cy="81.1" rx="2.27" ry="1.83" fill="#0000ff"/></g>
<g><ellipse cx="28.5" cy="76.7" rx="3.18" ry="2.75" fill="#00ff90"/><ellipse cx="28.5" cy="76.7" rx="2.73" ry="2.30" fill="#00f0ff"/><ellipse cx="28.5" cy="76.7" rx="2.25" ry="1.82" fill="#0088ff"/><ellipse cx="28.5" cy="76.7" rx="1.83" ry="1.40" fill="#0000ff"/></g>
<g><ellipse cx="11.0" cy="70.2" rx="2.31" ry="2.31" fill="#00ff90"/><ellipse cx="11.0" cy="70.2" rx="1.86" ry="1.86" fill="#00f0ff"/><ellipse cx="11.0" cy="70.2" rx="1.38" ry="1.38" fill="#0088ff"/><ellipse cx="11.0" cy="70.2" rx="0.96" ry="0.96" fill="#0000ff"/></g>
<g><ellipse cx="56.2" cy="79.6" rx="3.62" ry="4.05" fill="#00ff90"/><ellipse cx="56.2" cy="79.6" rx="3.17" ry="3.60" fill="#00f0ff"/><ellipse cx="56.2" cy="79.6" rx="2.69" ry="3.12" fill="#0088ff"/><ellipse cx="56.2" cy="79.6" rx="2.27" ry="2.70" fill="#0000ff"/></g>
<g><ellipse cx="14.1" cy="42.2" rx="2.75" ry="2.31" fill="#00ff90"/><ellipse cx="14.1" cy="42.2" rx="2.30" ry="1.86" fill="#00f0ff"/><ellipse cx="14.1" cy="42.2" rx="1.82" ry="1.38" fill="#0088ff"/><ellipse cx="14.1" cy="42.2" rx="1.40" ry="0.96" fill="#0000ff"/></g>
<g><ellipse cx="59.0" cy="5.3" rx="5.15" ry="5.36" fill="#a0ff00"/><ellipse cx="59.0" cy="5.3" rx="4.70" ry="4.91" fill="#ffe800"/><ellipse cx="59.0" cy="5.3" rx="4.22" ry="4.43" fill="#ff7800"/><ellipse cx="59.0" cy="5.3" rx="3.80" ry="4.01" fill="#ff0000"/></g>
<g transform="rotate(-20 23.9 12.3)"><ellipse cx="23.9" cy="12.3" rx="6.24" ry="3.40" fill="#a0ff00"/><ellipse cx="23.9" cy="12.3" rx="5.79" ry="2.95" fill="#ffe800"/><ellipse cx="23.9" cy="12.3" rx="5.31" ry="2.47" fill="#ff7800"/><ellipse cx="23.9" cy="12.3" rx="4.89" ry="2.05" fill="#ff0000"/></g>
<g><ellipse cx="34.8" cy="11.4" rx="2.31" ry="2.09" fill="#a0ff00"/><ellipse cx="34.8" cy="11.4" rx="1.86" ry="1.64" fill="#ffe800"/><ellipse cx="34.8" cy="11.4" rx="1.38" ry="1.16" fill="#ff7800"/><ellipse cx="34.8" cy="11.4" rx="0.96" ry="0.74" fill="#ff0000"/></g>
<g><ellipse cx="82.8" cy="22.4" rx="3.40" ry="2.75" fill="#a0ff00"/><ellipse cx="82.8" cy="22.4" rx="2.95" ry="2.30" fill="#ffe800"/><ellipse cx="82.8" cy="22.4" rx="2.47" ry="1.82" fill="#ff7800"/><ellipse cx="82.8" cy="22.4" rx="2.05" ry="1.40" fill="#ff0000"/></g>
<g><ellipse cx="89.6" cy="33.3" rx="3.62" ry="5.15" fill="#a0ff00"/><ellipse cx="89.6" cy="33.3" rx="3.17" ry="4.70" fill="#ffe800"/><ellipse cx="89.6" cy="33.3" rx="2.69" ry="4.22" fill="#ff7800"/><ellipse cx="89.6" cy="33.3" rx="2.27" ry="3.80" fill="#ff0000"/></g>
<g><ellipse cx="91.1" cy="49.0" rx="6.89" ry="8.42" fill="#a0ff00"/><ellipse cx="91.1" cy="49.0" rx="6.44" ry="7.97" fill="#ffe800"/><ellipse cx="91.1" cy="49.0" rx="5.96" ry="7.49" fill="#ff7800"/><ellipse cx="91.1" cy="49.0" rx="5.54" ry="7.07" fill="#ff0000"/></g>
<g><ellipse cx="10.8" cy="42.6" rx="2.31" ry="2.09" fill="#a0ff00"/><ellipse cx="10.8" cy="42.6" rx="1.86" ry="1.64" fill="#ffe800"/><ellipse cx="10.8" cy="42.6" rx="1.38" ry="1.16" fill="#ff7800"/><ellipse cx="10.8" cy="42.6" rx="0.96" ry="0.74" fill="#ff0000"/></g>
<g><ellipse cx="90.7" cy="51.4" rx="6.02" ry="11.04" fill="#a0ff00"/><ellipse cx="90.7" cy="51.4" rx="5.57" ry="10.59" fill="#ffe800"/><ellipse cx="90.7" cy="51.4" rx="5.09" ry="10.11" fill="#ff7800"/><ellipse cx="90.7" cy="51.4" rx="4.67" ry="9.69" fill="#ff0000"/></g>
<g><ellipse cx="91.6" cy="64.7" rx="2.75" ry="2.75" fill="#a0ff00"/><ellipse cx="91.6" cy="64.7" rx="2.30" ry="2.30" fill="#ffe800"/><ellipse cx="91.6" cy="64.7" rx="1.82" ry="1.82" fill="#ff7800"/><ellipse cx="91.6" cy="64.7" rx="1.40" ry="1.40" fill="#ff0000"/></g>
<g><ellipse cx="4.7" cy="56.9" rx="2.75" ry="4.05" fill="#a0ff00"/><ellipse cx="4.7" cy="56.9" rx="2.30" ry="3.60" fill="#ffe800"/><ellipse cx="4.7" cy="56.9" rx="1.82" ry="3.12" fill="#ff7800"/><ellipse cx="4.7" cy="56.9" rx="1.40" ry="2.70" fill="#ff0000"/></g>
<g><ellipse cx="25.2" cy="74.5" rx="2.31" ry="2.31" fill="#a0ff00"/><ellipse cx="25.2" cy="74.5" rx="1.86" ry="1.86" fill="#ffe800"/><ellipse cx="25.2" cy="74.5" rx="1.38" ry="1.38" fill="#ff7800"/><ellipse cx="25.2" cy="74.5" rx="0.96" ry="0.96" fill="#ff0000"/></g>
<g><ellipse cx="8.6" cy="68.0" rx="2.75" ry="3.62" fill="#a0ff00"/><ellipse cx="8.6" cy="68.0" rx="2.30" ry="3.17" fill="#ffe800"/><ellipse cx="8.6" cy="68.0" rx="1.82" ry="2.69" fill="#ff7800"/><ellipse cx="8.6" cy="68.0" rx="1.40" ry="2.27" fill="#ff0000"/></g>
<g transform="rotate(-10 39.4 89.2)"><ellipse cx="39.4" cy="89.2" rx="5.15" ry="3.18" fill="#a0ff00"/><ellipse cx="39.4" cy="89.2" rx="4.70" ry="2.73" fill="#ffe800"/><ellipse cx="39.4" cy="89.2" rx="4.22" ry="2.25" fill="#ff7800"/><ellipse cx="39.4" cy="89.2" rx="3.80" ry="1.83" fill="#ff0000"/></g>
<g transform="rotate(20 62.3 86.5)"><ellipse cx="62.3" cy="86.5" rx="7.33" ry="4.71" fill="#a0ff00"/><ellipse cx="62.3" cy="86.5" rx="6.88" ry="4.26" fill="#ffe800"/><ellipse cx="62.3" cy="86.5" rx="6.40" ry="3.78" fill="#ff7800"/><ellipse cx="62.3" cy="86.5" rx="5.98" ry="3.36" fill="#ff0000"/></g>
<g><ellipse cx="48.3" cy="92.0" rx="2.96" ry="2.31" fill="#a0ff00"/><ellipse cx="48.3" cy="92.0" rx="2.51" ry="1.86" fill="#ffe800"/><ellipse cx="48.3" cy="92.0" rx="2.03" ry="1.38" fill="#ff7800"/><ellipse cx="48.3" cy="92.0" rx="1.61" ry="0.96" fill="#ff0000"/></g>
</g></g>
<rect x="0" y="0" width="97.8" height="93.5" fill="none" stroke="#666" stroke-width="0.8"/>
<line x1="2.6" y1="93.5" x2="2.6" y2="92.2" stroke="#666" stroke-width="0.5"/>
<line x1="48.9" y1="93.5" x2="48.9" y2="92.2" stroke="#666" stroke-width="0.5"/>
<line x1="95.2" y1="93.5" x2="95.2" y2="92.2" stroke="#666" stroke-width="0.5"/>
<line x1="0" y1="2.6" x2="1.3" y2="2.6" stroke="#666" stroke-width="0.5"/>
<line x1="0" y1="46.8" x2="1.3" y2="46.8" stroke="#666" stroke-width="0.5"/>
<line x1="0" y1="90.9" x2="1.3" y2="90.9" stroke="#666" stroke-width="0.5"/>
<text x="-2.2" y="3.6" text-anchor="end" font-size="3.4" fill="#555">0.08</text>
<text x="-2.2" y="48.0" text-anchor="end" font-size="3.4" fill="#555">0</text>
<text x="-2.2" y="91.9" text-anchor="end" font-size="3.4" fill="#555">-0.08</text>
<text x="2.6" y="98.4" text-anchor="middle" font-size="3.4" fill="#555">-0.08</text>
<text x="48.9" y="98.4" text-anchor="middle" font-size="3.4" fill="#555">0</text>
<text x="95.2" y="98.4" text-anchor="middle" font-size="3.4" fill="#555">0.08</text>
<text x="48.9" y="106.1" text-anchor="middle" font-size="4.6" fill="#333">X</text>
<text transform="translate(-6.2,46.8) rotate(-90)" text-anchor="middle" font-size="4.2" fill="#444">Y</text>
</g>
<g transform="translate(396.1,39.5)">
<clipPath id="cl4"><polygon points="41.4,0.1 61.0,0.1 78.5,8.0 87.2,16.7 92.6,27.6 97.7,34.1 97.7,40.5 97.0,58.0 85.0,75.4 73.0,86.3 61.0,91.3 47.9,93.5 35.9,91.1 21.7,84.1 10.8,75.4 2.1,58.0 1.0,40.5 1.0,42.9 3.2,29.8 8.6,18.9 17.4,10.1"/></clipPath>
<polygon points="41.4,0.1 61.0,0.1 78.5,8.0 87.2,16.7 92.6,27.6 97.7,34.1 97.7,40.5 97.0,58.0 85.0,75.4 73.0,86.3 61.0,91.3 47.9,93.5 35.9,91.1 21.7,84.1 10.8,75.4 2.1,58.0 1.0,40.5 1.0,42.9 3.2,29.8 8.6,18.9 17.4,10.1" fill="#06f906"/>
<g clip-path="url(#cl4)"><g filter="url(#bl)">
<polygon points="94.2,33.7 98.1,32.0 98.1,56.2 94.2,60.6 86.1,56.6 79.6,52.3 85.0,44.9 88.3,40.5 91.6,39.6" fill="#00e8ff" stroke="#00ffb0" stroke-width="1.0" stroke-linejoin="round"/>
<polygon points="94.2,33.7 98.1,32.0 98.1,56.2 94.2,60.6 86.1,56.6 79.6,52.3 85.0,44.9 88.3,40.5 91.6,39.6" fill="#0000ff" stroke="#0060ff" stroke-width="0.5" transform="translate(0.9,0)"/>
<ellipse cx="21.7" cy="12.3" rx="6.0" ry="3.2" fill="url(#gc)"/>
<ellipse cx="34.8" cy="5.8" rx="8.2" ry="1.9" fill="url(#gc)" transform="rotate(-20 34.8 5.8)"/>
<ellipse cx="19.5" cy="27.6" rx="9.8" ry="2.5" fill="url(#gc)" transform="rotate(-15 19.5 27.6)"/>
<ellipse cx="50.1" cy="15.6" rx="4.7" ry="2.5" fill="url(#gc)"/>
<ellipse cx="78.5" cy="55.8" rx="3.2" ry="5.7" fill="url(#gc)" transform="rotate(30 78.5 55.8)"/>
<ellipse cx="59.9" cy="85.9" rx="7.0" ry="5.7" fill="url(#gc)"/>
<ellipse cx="19.5" cy="51.4" rx="2.5" ry="1.6" fill="url(#gc)"/>
<ellipse cx="39.2" cy="80.9" rx="3.2" ry="1.9" fill="url(#gc)"/>
<ellipse cx="22.2" cy="34.1" rx="4.1" ry="1.3" fill="url(#gy)" transform="rotate(-10 22.2 34.1)"/>
<ellipse cx="14.1" cy="56.9" rx="1.3" ry="2.8" fill="url(#gy)"/>
<g><ellipse cx="3.4" cy="50.7" rx="2.93" ry="2.93" fill="#a0ff00"/><ellipse cx="3.4" cy="50.7" rx="2.43" ry="2.43" fill="#ffe800"/><ellipse cx="3.4" cy="50.7" rx="1.83" ry="1.83" fill="#ff8a00"/><ellipse cx="3.4" cy="50.7" rx="1.33" ry="1.33" fill="#ff3000"/></g>
<g><ellipse cx="66.5" cy="67.8" rx="3.15" ry="2.06" fill="#a0ff00"/><ellipse cx="66.5" cy="67.8" rx="2.65" ry="1.56" fill="#ffe800"/><ellipse cx="66.5" cy="67.8" rx="2.05" ry="0.96" fill="#ff8a00"/><ellipse cx="66.5" cy="67.8" rx="1.55" ry="0.46" fill="#ff3000"/></g>
<g><ellipse cx="44.6" cy="92.6" rx="3.59" ry="1.84" fill="#a0ff00"/><ellipse cx="44.6" cy="92.6" rx="3.09" ry="1.34" fill="#ffe800"/><ellipse cx="44.6" cy="92.6" rx="2.49" ry="0.74" fill="#ff8a00"/><ellipse cx="44.6" cy="92.6" rx="1.99" ry="0.24" fill="#ff3000"/></g>
<g><ellipse cx="25.0" cy="64.5" rx="1.62" ry="2.93" fill="#a0ff00"/><ellipse cx="25.0" cy="64.5" rx="1.12" ry="2.43" fill="#ffe800"/><ellipse cx="25.0" cy="64.5" rx="0.52" ry="1.83" fill="#ff8a00"/></g>
<g transform="rotate(10 51.4 5.3)"><ellipse cx="51.4" cy="5.3" rx="6.24" ry="5.58" fill="#00ff90"/><ellipse cx="51.4" cy="5.3" rx="5.79" ry="5.13" fill="#00f0ff"/><ellipse cx="51.4" cy="5.3" rx="5.31" ry="4.65" fill="#0088ff"/><ellipse cx="51.4" cy="5.3" rx="4.89" ry="4.23" fill="#0000ff"/></g>
<g><ellipse cx="63.6" cy="6.2" rx="2.75" ry="3.18" fill="#00ff90"/><ellipse cx="63.6" cy="6.2" rx="2.30" ry="2.73" fill="#00f0ff"/><ellipse cx="63.6" cy="6.2" rx="1.82" ry="2.25" fill="#0088ff"/><ellipse cx="63.6" cy="6.2" rx="1.40" ry="1.83" fill="#0000ff"/></g>
<g transform="rotate(30 76.5 11.4)"><ellipse cx="76.5" cy="11.4" rx="3.18" ry="2.75" fill="#00ff90"/><ellipse cx="76.5" cy="11.4" rx="2.73" ry="2.30" fill="#00f0ff"/><ellipse cx="76.5" cy="11.4" rx="2.25" ry="1.82" fill="#0088ff"/><ellipse cx="76.5" cy="11.4" rx="1.83" ry="1.40" fill="#0000ff"/></g>
<g><ellipse cx="80.6" cy="13.6" rx="2.75" ry="2.31" fill="#00ff90"/><ellipse cx="80.6" cy="13.6" rx="2.30" ry="1.86" fill="#00f0ff"/><ellipse cx="80.6" cy="13.6" rx="1.82" ry="1.38" fill="#0088ff"/><ellipse cx="80.6" cy="13.6" rx="1.40" ry="0.96" fill="#0000ff"/></g>
<g><ellipse cx="8.6" cy="20.0" rx="2.75" ry="2.31" fill="#00ff90"/><ellipse cx="8.6" cy="20.0" rx="2.30" ry="1.86" fill="#00f0ff"/><ellipse cx="8.6" cy="20.0" rx="1.82" ry="1.38" fill="#0088ff"/><ellipse cx="8.6" cy="20.0" rx="1.40" ry="0.96" fill="#0000ff"/></g>
<g transform="rotate(-30 14.1 40.9)"><ellipse cx="14.1" cy="40.9" rx="3.84" ry="2.53" fill="#00ff90"/><ellipse cx="14.1" cy="40.9" rx="3.39" ry="2.08" fill="#00f0ff"/><ellipse cx="14.1" cy="40.9" rx="2.91" ry="1.60" fill="#0088ff"/><ellipse cx="14.1" cy="40.9" rx="2.49" ry="1.18" fill="#0000ff"/></g>
<g><ellipse cx="3.0" cy="37.4" rx="2.75" ry="6.45" fill="#00ff90"/><ellipse cx="3.0" cy="37.4" rx="2.30" ry="6.00" fill="#00f0ff"/><ellipse cx="3.0" cy="37.4" rx="1.82" ry="5.52" fill="#0088ff"/><ellipse cx="3.0" cy="37.4" rx="1.40" ry="5.10" fill="#0000ff"/></g>
<g transform="rotate(20 83.5 62.3)"><ellipse cx="83.5" cy="62.3" rx="4.27" ry="2.31" fill="#00ff90"/><ellipse cx="83.5" cy="62.3" rx="3.82" ry="1.86" fill="#00f0ff"/><ellipse cx="83.5" cy="62.3" rx="3.34" ry="1.38" fill="#0088ff"/><ellipse cx="83.5" cy="62.3" rx="2.92" ry="0.96" fill="#0000ff"/></g>
<g><ellipse cx="3.0" cy="44.9" rx="2.31" ry="3.62" fill="#00ff90"/><ellipse cx="3.0" cy="44.9" rx="1.86" ry="3.17" fill="#00f0ff"/><ellipse cx="3.0" cy="44.9" rx="1.38" ry="2.69" fill="#0088ff"/><ellipse cx="3.0" cy="44.9" rx="0.96" ry="2.27" fill="#0000ff"/></g>
<g><ellipse cx="7.8" cy="41.6" rx="3.62" ry="2.75" fill="#00ff90"/><ellipse cx="7.8" cy="41.6" rx="3.17" ry="2.30" fill="#00f0ff"/><ellipse cx="7.8" cy="41.6" rx="2.69" ry="1.82" fill="#0088ff"/><ellipse cx="7.8" cy="41.6" rx="2.27" ry="1.40" fill="#0000ff"/></g>
<g><ellipse cx="18.5" cy="62.3" rx="3.18" ry="4.27" fill="#00ff90"/><ellipse cx="18.5" cy="62.3" rx="2.73" ry="3.82" fill="#00f0ff"/><ellipse cx="18.5" cy="62.3" rx="2.25" ry="3.34" fill="#0088ff"/><ellipse cx="18.5" cy="62.3" rx="1.83" ry="2.92" fill="#0000ff"/></g>
<g><ellipse cx="28.1" cy="75.4" rx="2.31" ry="3.18" fill="#00ff90"/><ellipse cx="28.1" cy="75.4" rx="1.86" ry="2.73" fill="#00f0ff"/><ellipse cx="28.1" cy="75.4" rx="1.38" ry="2.25" fill="#0088ff"/><ellipse cx="28.1" cy="75.4" rx="0.96" ry="1.83" fill="#0000ff"/></g>
<g><ellipse cx="8.6" cy="72.4" rx="2.96" ry="4.05" fill="#00ff90"/><ellipse cx="8.6" cy="72.4" rx="2.51" ry="3.60" fill="#00f0ff"/><ellipse cx="8.6" cy="72.4" rx="2.03" ry="3.12" fill="#0088ff"/><ellipse cx="8.6" cy="72.4" rx="1.61" ry="2.70" fill="#0000ff"/></g>
<g><ellipse cx="60.1" cy="86.1" rx="3.62" ry="3.18" fill="#00ff90"/><ellipse cx="60.1" cy="86.1" rx="3.17" ry="2.73" fill="#00f0ff"/><ellipse cx="60.1" cy="86.1" rx="2.69" ry="2.25" fill="#0088ff"/><ellipse cx="60.1" cy="86.1" rx="2.27" ry="1.83" fill="#0000ff"/></g>
<g transform="rotate(-15 43.1 5.3)"><ellipse cx="43.1" cy="5.3" rx="3.62" ry="5.15" fill="#a0ff00"/><ellipse cx="43.1" cy="5.3" rx="3.17" ry="4.70" fill="#ffe800"/><ellipse cx="43.1" cy="5.3" rx="2.69" ry="4.22" fill="#ff7800"/><ellipse cx="43.1" cy="5.3" rx="2.27" ry="3.80" fill="#ff0000"/></g>
<g transform="rotate(10 59.0 5.3)"><ellipse cx="59.0" cy="5.3" rx="5.15" ry="4.49" fill="#a0ff00"/><ellipse cx="59.0" cy="5.3" rx="4.70" ry="4.04" fill="#ffe800"/><ellipse cx="59.0" cy="5.3" rx="4.22" ry="3.56" fill="#ff7800"/><ellipse cx="59.0" cy="5.3" rx="3.80" ry="3.14" fill="#ff0000"/></g>
<g transform="rotate(-10 72.4 12.3)"><ellipse cx="72.4" cy="12.3" rx="3.18" ry="4.71" fill="#a0ff00"/><ellipse cx="72.4" cy="12.3" rx="2.73" ry="4.26" fill="#ffe800"/><ellipse cx="72.4" cy="12.3" rx="2.25" ry="3.78" fill="#ff7800"/><ellipse cx="72.4" cy="12.3" rx="1.83" ry="3.36" fill="#ff0000"/></g>
<g transform="rotate(-10 83.3 18.0)"><ellipse cx="83.3" cy="18.0" rx="2.31" ry="4.27" fill="#a0ff00"/><ellipse cx="83.3" cy="18.0" rx="1.86" ry="3.82" fill="#ffe800"/><ellipse cx="83.3" cy="18.0" rx="1.38" ry="3.34" fill="#ff7800"/><ellipse cx="83.3" cy="18.0" rx="0.96" ry="2.92" fill="#ff0000"/></g>
<g><ellipse cx="90.2" cy="33.3" rx="3.62" ry="6.02" fill="#a0ff00"/><ellipse cx="90.2" cy="33.3" rx="3.17" ry="5.57" fill="#ffe800"/><ellipse cx="90.2" cy="33.3" rx="2.69" ry="5.09" fill="#ff7800"/><ellipse cx="90.2" cy="33.3" rx="2.27" ry="4.67" fill="#ff0000"/></g>
<g transform="rotate(-15 83.9 45.0)"><ellipse cx="83.9" cy="45.0" rx="3.40" ry="2.31" fill="#a0ff00"/><ellipse cx="83.9" cy="45.0" rx="2.95" ry="1.86" fill="#ffe800"/><ellipse cx="83.9" cy="45.0" rx="2.47" ry="1.38" fill="#ff7800"/><ellipse cx="83.9" cy="45.0" rx="2.05" ry="0.96" fill="#ff0000"/></g>
<g transform="rotate(-20 10.8 22.1)"><ellipse cx="10.8" cy="22.1" rx="3.40" ry="2.75" fill="#a0ff00"/><ellipse cx="10.8" cy="22.1" rx="2.95" ry="2.30" fill="#ffe800"/><ellipse cx="10.8" cy="22.1" rx="2.47" ry="1.82" fill="#ff7800"/><ellipse cx="10.8" cy="22.1" rx="2.05" ry="1.40" fill="#ff0000"/></g>
<g><ellipse cx="9.7" cy="35.4" rx="4.71" ry="5.15" fill="#a0ff00"/><ellipse cx="9.7" cy="35.4" rx="4.26" ry="4.70" fill="#ffe800"/><ellipse cx="9.7" cy="35.4" rx="3.78" ry="4.22" fill="#ff7800"/><ellipse cx="9.7" cy="35.4" rx="3.36" ry="3.80" fill="#ff0000"/></g>
<g transform="rotate(-10 16.7 37.4)"><ellipse cx="16.7" cy="37.4" rx="3.84" ry="2.09" fill="#a0ff00"/><ellipse cx="16.7" cy="37.4" rx="3.39" ry="1.64" fill="#ffe800"/><ellipse cx="16.7" cy="37.4" rx="2.91" ry="1.16" fill="#ff7800"/><ellipse cx="16.7" cy="37.4" rx="2.49" ry="0.74" fill="#ff0000"/></g>
<g transform="rotate(-20 5.6 45.3)"><ellipse cx="5.6" cy="45.3" rx="4.27" ry="2.75" fill="#a0ff00"/><ellipse cx="5.6" cy="45.3" rx="3.82" ry="2.30" fill="#ffe800"/><ellipse cx="5.6" cy="45.3" rx="3.34" ry="1.82" fill="#ff7800"/><ellipse cx="5.6" cy="45.3" rx="2.92" ry="1.40" fill="#ff0000"/></g>
<g><ellipse cx="76.7" cy="62.3" rx="4.71" ry="3.18" fill="#a0ff00"/><ellipse cx="76.7" cy="62.3" rx="4.26" ry="2.73" fill="#ffe800"/><ellipse cx="76.7" cy="62.3" rx="3.78" ry="2.25" fill="#ff7800"/><ellipse cx="76.7" cy="62.3" rx="3.36" ry="1.83" fill="#ff0000"/></g>
<g transform="rotate(-15 85.4 66.5)"><ellipse cx="85.4" cy="66.5" rx="5.15" ry="2.31" fill="#a0ff00"/><ellipse cx="85.4" cy="66.5" rx="4.70" ry="1.86" fill="#ffe800"/><ellipse cx="85.4" cy="66.5" rx="4.22" ry="1.38" fill="#ff7800"/><ellipse cx="85.4" cy="66.5" rx="3.80" ry="0.96" fill="#ff0000"/></g>
<g><ellipse cx="5.4" cy="50.3" rx="3.84" ry="6.89" fill="#a0ff00"/><ellipse cx="5.4" cy="50.3" rx="3.39" ry="6.44" fill="#ffe800"/><ellipse cx="5.4" cy="50.3" rx="2.91" ry="5.96" fill="#ff7800"/><ellipse cx="5.4" cy="50.3" rx="2.49" ry="5.54" fill="#ff0000"/></g>
<g><ellipse cx="23.9" cy="74.5" rx="2.75" ry="3.40" fill="#a0ff00"/><ellipse cx="23.9" cy="74.5" rx="2.30" ry="2.95" fill="#ffe800"/><ellipse cx="23.9" cy="74.5" rx="1.82" ry="2.47" fill="#ff7800"/><ellipse cx="23.9" cy="74.5" rx="1.40" ry="2.05" fill="#ff0000"/></g>
<g transform="rotate(10 29.6 82.2)"><ellipse cx="29.6" cy="82.2" rx="3.62" ry="4.71" fill="#a0ff00"/><ellipse cx="29.6" cy="82.2" rx="3.17" ry="4.26" fill="#ffe800"/><ellipse cx="29.6" cy="82.2" rx="2.69" ry="3.78" fill="#ff7800"/><ellipse cx="29.6" cy="82.2" rx="2.27" ry="3.36" fill="#ff0000"/></g>
</g></g>
<rect x="0" y="0" width="97.8" height="93.5" fill="none" stroke="#666" stroke-width="0.8"/>
<line x1="2.6" y1="93.5" x2="2.6" y2="92.2" stroke="#666" stroke-width="0.5"/>
<line x1="48.9" y1="93.5" x2="48.9" y2="92.2" stroke="#666" stroke-width="0.5"/>
<line x1="95.2" y1="93.5" x2="95.2" y2="92.2" stroke="#666" stroke-width="0.5"/>
<line x1="0" y1="2.6" x2="1.3" y2="2.6" stroke="#666" stroke-width="0.5"/>
<line x1="0" y1="46.8" x2="1.3" y2="46.8" stroke="#666" stroke-width="0.5"/>
<line x1="0" y1="90.9" x2="1.3" y2="90.9" stroke="#666" stroke-width="0.5"/>
<text x="-2.2" y="3.6" text-anchor="end" font-size="3.4" fill="#555">0.08</text>
<text x="-2.2" y="48.0" text-anchor="end" font-size="3.4" fill="#555">0</text>
<text x="-2.2" y="91.9" text-anchor="end" font-size="3.4" fill="#555">-0.08</text>
<text x="2.6" y="98.4" text-anchor="middle" font-size="3.4" fill="#555">-0.08</text>
<text x="48.9" y="98.4" text-anchor="middle" font-size="3.4" fill="#555">0</text>
<text x="95.2" y="98.4" text-anchor="middle" font-size="3.4" fill="#555">0.08</text>
<text x="48.9" y="106.1" text-anchor="middle" font-size="4.6" fill="#333">X</text>
<text transform="translate(-6.2,46.8) rotate(-90)" text-anchor="middle" font-size="4.2" fill="#444">Y</text>
</g>
<g transform="translate(67.2,162.3)">
<clipPath id="cl5"><polygon points="41.4,0.1 54.5,0.1 62.1,1.4 80.6,9.0 90.5,18.9 95.9,32.0 97.7,45.0 97.7,51.4 95.9,64.5 85.0,77.6 74.1,87.4 61.0,92.0 47.9,93.5 34.8,90.2 21.7,83.0 10.8,73.2 2.5,62.3 1.0,47.0 1.0,40.7 5.4,28.7 10.8,18.9 23.9,9.0"/></clipPath>
<polygon points="41.4,0.1 54.5,0.1 62.1,1.4 80.6,9.0 90.5,18.9 95.9,32.0 97.7,45.0 97.7,51.4 95.9,64.5 85.0,77.6 74.1,87.4 61.0,92.0 47.9,93.5 34.8,90.2 21.7,83.0 10.8,73.2 2.5,62.3 1.0,47.0 1.0,40.7 5.4,28.7 10.8,18.9 23.9,9.0" fill="#06f906"/>
<g clip-path="url(#cl5)"><g filter="url(#bl)">
<polygon points="92.0,30.9 98.1,33.0 98.1,54.0 92.4,53.2 88.5,41.6 88.5,41.8" fill="#00e8ff" stroke="#00ffb0" stroke-width="1.0" stroke-linejoin="round"/>
<polygon points="92.0,30.9 98.1,33.0 98.1,54.0 92.4,53.2 88.5,41.6 88.5,41.8" fill="#0000ff" stroke="#0060ff" stroke-width="0.5" transform="translate(0.9,0)"/>
<ellipse cx="51.2" cy="34.1" rx="5.1" ry="4.4" fill="url(#gc)"/>
<ellipse cx="71.9" cy="23.2" rx="4.1" ry="5.1" fill="url(#gc)"/>
<ellipse cx="35.9" cy="39.6" rx="8.2" ry="3.2" fill="url(#gc)"/>
<ellipse cx="61.0" cy="44.0" rx="3.5" ry="2.8" fill="url(#gc)"/>
<ellipse cx="44.6" cy="29.8" rx="2.8" ry="2.8" fill="url(#gc)"/>
<ellipse cx="58.8" cy="23.2" rx="2.8" ry="2.8" fill="url(#gc)"/>
<ellipse cx="61.0" cy="12.3" rx="5.7" ry="2.5" fill="url(#gc)" transform="rotate(20 61.0 12.3)"/>
<ellipse cx="9.1" cy="52.5" rx="1.9" ry="7.0" fill="url(#gc)"/>
<ellipse cx="63.2" cy="77.6" rx="3.2" ry="1.9" fill="url(#gc)"/>
<ellipse cx="46.2" cy="54.9" rx="6.3" ry="5.1" fill="url(#gc)"/>
<ellipse cx="35.9" cy="54.0" rx="6.6" ry="3.2" fill="url(#gc)"/>
<ellipse cx="44.6" cy="73.2" rx="8.2" ry="2.5" fill="url(#gc)" transform="rotate(20 44.6 73.2)"/>
<ellipse cx="33.7" cy="11.9" rx="2.5" ry="1.9" fill="url(#gy)"/>
<ellipse cx="83.3" cy="45.0" rx="2.8" ry="1.6" fill="url(#gy)"/>
<ellipse cx="90.7" cy="35.2" rx="1.6" ry="2.8" fill="url(#gy)"/>
<ellipse cx="82.8" cy="44.9" rx="2.8" ry="1.3" fill="url(#gy)"/>
<ellipse cx="65.4" cy="73.2" rx="2.5" ry="1.6" fill="url(#gy)"/>
<g transform="rotate(10 16.7 52.5)"><ellipse cx="16.7" cy="52.5" rx="2.06" ry="7.30" fill="#a0ff00"/><ellipse cx="16.7" cy="52.5" rx="1.56" ry="6.80" fill="#ffe800"/><ellipse cx="16.7" cy="52.5" rx="0.96" ry="6.20" fill="#ff8a00"/><ellipse cx="16.7" cy="52.5" rx="0.46" ry="5.70" fill="#ff3000"/></g>
<g transform="rotate(-10 25.0 63.4)"><ellipse cx="25.0" cy="63.4" rx="1.84" ry="4.24" fill="#a0ff00"/><ellipse cx="25.0" cy="63.4" rx="1.34" ry="3.74" fill="#ffe800"/><ellipse cx="25.0" cy="63.4" rx="0.74" ry="3.14" fill="#ff8a00"/><ellipse cx="25.0" cy="63.4" rx="0.24" ry="2.64" fill="#ff3000"/></g>
<g transform="rotate(-10 85.2 66.5)"><ellipse cx="85.2" cy="66.5" rx="4.02" ry="2.06" fill="#a0ff00"/><ellipse cx="85.2" cy="66.5" rx="3.52" ry="1.56" fill="#ffe800"/><ellipse cx="85.2" cy="66.5" rx="2.92" ry="0.96" fill="#ff8a00"/><ellipse cx="85.2" cy="66.5" rx="2.42" ry="0.46" fill="#ff3000"/></g>
<g transform="rotate(20 45.3 6.2)"><ellipse cx="45.3" cy="6.2" rx="7.98" ry="5.15" fill="#00ff90"/><ellipse cx="45.3" cy="6.2" rx="7.53" ry="4.70" fill="#00f0ff"/><ellipse cx="45.3" cy="6.2" rx="7.05" ry="4.22" fill="#0088ff"/><ellipse cx="45.3" cy="6.2" rx="6.63" ry="3.80" fill="#0000ff"/></g>
<g transform="rotate(25 62.8 4.9)"><ellipse cx="62.8" cy="4.9" rx="6.89" ry="2.96" fill="#00ff90"/><ellipse cx="62.8" cy="4.9" rx="6.44" ry="2.51" fill="#00f0ff"/><ellipse cx="62.8" cy="4.9" rx="5.96" ry="2.03" fill="#0088ff"/><ellipse cx="62.8" cy="4.9" rx="5.54" ry="1.61" fill="#0000ff"/></g>
<g transform="rotate(20 80.6 16.7)"><ellipse cx="80.6" cy="16.7" rx="5.15" ry="4.05" fill="#00ff90"/><ellipse cx="80.6" cy="16.7" rx="4.70" ry="3.60" fill="#00f0ff"/><ellipse cx="80.6" cy="16.7" rx="4.22" ry="3.12" fill="#0088ff"/><ellipse cx="80.6" cy="16.7" rx="3.80" ry="2.70" fill="#0000ff"/></g>
<g transform="rotate(-20 88.7 21.0)"><ellipse cx="88.7" cy="21.0" rx="2.96" ry="6.24" fill="#00ff90"/><ellipse cx="88.7" cy="21.0" rx="2.51" ry="5.79" fill="#00f0ff"/><ellipse cx="88.7" cy="21.0" rx="2.03" ry="5.31" fill="#0088ff"/><ellipse cx="88.7" cy="21.0" rx="1.61" ry="4.89" fill="#0000ff"/></g>
<g transform="rotate(-35 11.9 22.1)"><ellipse cx="11.9" cy="22.1" rx="4.49" ry="2.96" fill="#00ff90"/><ellipse cx="11.9" cy="22.1" rx="4.04" ry="2.51" fill="#00f0ff"/><ellipse cx="11.9" cy="22.1" rx="3.56" ry="2.03" fill="#0088ff"/><ellipse cx="11.9" cy="22.1" rx="3.14" ry="1.61" fill="#0000ff"/></g>
<g transform="rotate(-25 11.5 32.0)"><ellipse cx="11.5" cy="32.0" rx="5.36" ry="2.53" fill="#00ff90"/><ellipse cx="11.5" cy="32.0" rx="4.91" ry="2.08" fill="#00f0ff"/><ellipse cx="11.5" cy="32.0" rx="4.43" ry="1.60" fill="#0088ff"/><ellipse cx="11.5" cy="32.0" rx="4.01" ry="1.18" fill="#0000ff"/></g>
<g transform="rotate(-20 21.7 27.6)"><ellipse cx="21.7" cy="27.6" rx="4.49" ry="2.31" fill="#00ff90"/><ellipse cx="21.7" cy="27.6" rx="4.04" ry="1.86" fill="#00f0ff"/><ellipse cx="21.7" cy="27.6" rx="3.56" ry="1.38" fill="#0088ff"/><ellipse cx="21.7" cy="27.6" rx="3.14" ry="0.96" fill="#0000ff"/></g>
<g><ellipse cx="10.4" cy="42.0" rx="3.40" ry="2.96" fill="#00ff90"/><ellipse cx="10.4" cy="42.0" rx="2.95" ry="2.51" fill="#00f0ff"/><ellipse cx="10.4" cy="42.0" rx="2.47" ry="2.03" fill="#0088ff"/><ellipse cx="10.4" cy="42.0" rx="2.05" ry="1.61" fill="#0000ff"/></g>
<g transform="rotate(-20 15.2 42.9)"><ellipse cx="15.2" cy="42.9" rx="4.05" ry="2.75" fill="#00ff90"/><ellipse cx="15.2" cy="42.9" rx="3.60" ry="2.30" fill="#00f0ff"/><ellipse cx="15.2" cy="42.9" rx="3.12" ry="1.82" fill="#0088ff"/><ellipse cx="15.2" cy="42.9" rx="2.70" ry="1.40" fill="#0000ff"/></g>
<g><ellipse cx="10.2" cy="49.7" rx="2.09" ry="2.96" fill="#00ff90"/><ellipse cx="10.2" cy="49.7" rx="1.64" ry="2.51" fill="#00f0ff"/><ellipse cx="10.2" cy="49.7" rx="1.16" ry="2.03" fill="#0088ff"/><ellipse cx="10.2" cy="49.7" rx="0.74" ry="1.61" fill="#0000ff"/></g>
<g><ellipse cx="10.8" cy="44.9" rx="3.18" ry="2.75" fill="#00ff90"/><ellipse cx="10.8" cy="44.9" rx="2.73" ry="2.30" fill="#00f0ff"/><ellipse cx="10.8" cy="44.9" rx="2.25" ry="1.82" fill="#0088ff"/><ellipse cx="10.8" cy="44.9" rx="1.83" ry="1.40" fill="#0000ff"/></g>
<g><ellipse cx="19.5" cy="62.3" rx="5.15" ry="5.80" fill="#00ff90"/><ellipse cx="19.5" cy="62.3" rx="4.70" ry="5.35" fill="#00f0ff"/><ellipse cx="19.5" cy="62.3" rx="4.22" ry="4.87" fill="#0088ff"/><ellipse cx="19.5" cy="62.3" rx="3.80" ry="4.45" fill="#0000ff"/></g>
<g><ellipse cx="21.7" cy="81.1" rx="5.15" ry="4.05" fill="#00ff90"/><ellipse cx="21.7" cy="81.1" rx="4.70" ry="3.60" fill="#00f0ff"/><ellipse cx="21.7" cy="81.1" rx="4.22" ry="3.12" fill="#0088ff"/><ellipse cx="21.7" cy="81.1" rx="3.80" ry="2.70" fill="#0000ff"/></g>
<g><ellipse cx="27.4" cy="71.0" rx="3.18" ry="2.75" fill="#00ff90"/><ellipse cx="27.4" cy="71.0" rx="2.73" ry="2.30" fill="#00f0ff"/><ellipse cx="27.4" cy="71.0" rx="2.25" ry="1.82" fill="#0088ff"/><ellipse cx="27.4" cy="71.0" rx="1.83" ry="1.40" fill="#0000ff"/></g>
<g><ellipse cx="56.6" cy="79.8" rx="4.93" ry="4.27" fill="#00ff90"/><ellipse cx="56.6" cy="79.8" rx="4.48" ry="3.82" fill="#00f0ff"/><ellipse cx="56.6" cy="79.8" rx="4.00" ry="3.34" fill="#0088ff"/><ellipse cx="56.6" cy="79.8" rx="3.58" ry="2.92" fill="#0000ff"/></g>
<g><ellipse cx="52.7" cy="84.6" rx="2.96" ry="2.75" fill="#00ff90"/><ellipse cx="52.7" cy="84.6" rx="2.51" ry="2.30" fill="#00f0ff"/><ellipse cx="52.7" cy="84.6" rx="2.03" ry="1.82" fill="#0088ff"/><ellipse cx="52.7" cy="84.6" rx="1.61" ry="1.40" fill="#0000ff"/></g>
<g><ellipse cx="75.6" cy="82.6" rx="3.18" ry="2.75" fill="#00ff90"/><ellipse cx="75.6" cy="82.6" rx="2.73" ry="2.30" fill="#00f0ff"/><ellipse cx="75.6" cy="82.6" rx="2.25" ry="1.82" fill="#0088ff"/><ellipse cx="75.6" cy="82.6" rx="1.83" ry="1.40" fill="#0000ff"/></g>
<g><ellipse cx="49.2" cy="56.4" rx="4.05" ry="3.62" fill="#00ff90"/><ellipse cx="49.2" cy="56.4" rx="3.60" ry="3.17" fill="#00f0ff"/><ellipse cx="49.2" cy="56.4" rx="3.12" ry="2.69" fill="#0088ff"/><ellipse cx="49.2" cy="56.4" rx="2.70" ry="2.27" fill="#0000ff"/></g>
<g><ellipse cx="83.3" cy="61.4" rx="3.84" ry="2.75" fill="#00ff90"/><ellipse cx="83.3" cy="61.4" rx="3.39" ry="2.30" fill="#00f0ff"/><ellipse cx="83.3" cy="61.4" rx="2.91" ry="1.82" fill="#0088ff"/><ellipse cx="83.3" cy="61.4" rx="2.49" ry="1.40" fill="#0000ff"/></g>
<g><ellipse cx="94.0" cy="62.5" rx="3.18" ry="2.75" fill="#00ff90"/><ellipse cx="94.0" cy="62.5" rx="2.73" ry="2.30" fill="#00f0ff"/><ellipse cx="94.0" cy="62.5" rx="2.25" ry="1.82" fill="#0088ff"/><ellipse cx="94.0" cy="62.5" rx="1.83" ry="1.40" fill="#0000ff"/></g>
<g transform="rotate(-15 54.7 6.2)"><ellipse cx="54.7" cy="6.2" rx="2.31" ry="5.80" fill="#a0ff00"/><ellipse cx="54.7" cy="6.2" rx="1.86" ry="5.35" fill="#ffe800"/><ellipse cx="54.7" cy="6.2" rx="1.38" ry="4.87" fill="#ff7800"/><ellipse cx="54.7" cy="6.2" rx="0.96" ry="4.45" fill="#ff0000"/></g>
<g transform="rotate(-20 72.4 12.3)"><ellipse cx="72.4" cy="12.3" rx="4.27" ry="5.58" fill="#a0ff00"/><ellipse cx="72.4" cy="12.3" rx="3.82" ry="5.13" fill="#ffe800"/><ellipse cx="72.4" cy="12.3" rx="3.34" ry="4.65" fill="#ff7800"/><ellipse cx="72.4" cy="12.3" rx="2.92" ry="4.23" fill="#ff0000"/></g>
<g><ellipse cx="82.4" cy="23.2" rx="4.27" ry="3.62" fill="#a0ff00"/><ellipse cx="82.4" cy="23.2" rx="3.82" ry="3.17" fill="#ffe800"/><ellipse cx="82.4" cy="23.2" rx="3.34" ry="2.69" fill="#ff7800"/><ellipse cx="82.4" cy="23.2" rx="2.92" ry="2.27" fill="#ff0000"/></g>
<g transform="rotate(-25 25.0 12.3)"><ellipse cx="25.0" cy="12.3" rx="6.24" ry="3.62" fill="#a0ff00"/><ellipse cx="25.0" cy="12.3" rx="5.79" ry="3.17" fill="#ffe800"/><ellipse cx="25.0" cy="12.3" rx="5.31" ry="2.69" fill="#ff7800"/><ellipse cx="25.0" cy="12.3" rx="4.89" ry="2.27" fill="#ff0000"/></g>
<g transform="rotate(-30 10.8 28.0)"><ellipse cx="10.8" cy="28.0" rx="7.11" ry="2.31" fill="#a0ff00"/><ellipse cx="10.8" cy="28.0" rx="6.66" ry="1.86" fill="#ffe800"/><ellipse cx="10.8" cy="28.0" rx="6.18" ry="1.38" fill="#ff7800"/><ellipse cx="10.8" cy="28.0" rx="5.76" ry="0.96" fill="#ff0000"/></g>
<g transform="rotate(-22 16.3 34.1)"><ellipse cx="16.3" cy="34.1" rx="7.11" ry="2.09" fill="#a0ff00"/><ellipse cx="16.3" cy="34.1" rx="6.66" ry="1.64" fill="#ffe800"/><ellipse cx="16.3" cy="34.1" rx="6.18" ry="1.16" fill="#ff7800"/><ellipse cx="16.3" cy="34.1" rx="5.76" ry="0.74" fill="#ff0000"/></g>
<g><ellipse cx="6.0" cy="35.2" rx="3.18" ry="3.18" fill="#a0ff00"/><ellipse cx="6.0" cy="35.2" rx="2.73" ry="2.73" fill="#ffe800"/><ellipse cx="6.0" cy="35.2" rx="2.25" ry="2.25" fill="#ff7800"/><ellipse cx="6.0" cy="35.2" rx="1.83" ry="1.83" fill="#ff0000"/></g>
<g><ellipse cx="5.6" cy="46.1" rx="6.24" ry="10.16" fill="#a0ff00"/><ellipse cx="5.6" cy="46.1" rx="5.79" ry="9.71" fill="#ffe800"/><ellipse cx="5.6" cy="46.1" rx="5.31" ry="9.23" fill="#ff7800"/><ellipse cx="5.6" cy="46.1" rx="4.89" ry="8.81" fill="#ff0000"/></g>
<g transform="rotate(-30 19.5 47.7)"><ellipse cx="19.5" cy="47.7" rx="3.62" ry="3.18" fill="#a0ff00"/><ellipse cx="19.5" cy="47.7" rx="3.17" ry="2.73" fill="#ffe800"/><ellipse cx="19.5" cy="47.7" rx="2.69" ry="2.25" fill="#ff7800"/><ellipse cx="19.5" cy="47.7" rx="2.27" ry="1.83" fill="#ff0000"/></g>
<g transform="rotate(-5 4.9 51.4)"><ellipse cx="4.9" cy="51.4" rx="4.93" ry="12.35" fill="#a0ff00"/><ellipse cx="4.9" cy="51.4" rx="4.48" ry="11.90" fill="#ffe800"/><ellipse cx="4.9" cy="51.4" rx="4.00" ry="11.42" fill="#ff7800"/><ellipse cx="4.9" cy="51.4" rx="3.58" ry="11.00" fill="#ff0000"/></g>
<g><ellipse cx="9.7" cy="67.1" rx="4.05" ry="4.05" fill="#a0ff00"/><ellipse cx="9.7" cy="67.1" rx="3.60" ry="3.60" fill="#ffe800"/><ellipse cx="9.7" cy="67.1" rx="3.12" ry="3.12" fill="#ff7800"/><ellipse cx="9.7" cy="67.1" rx="2.70" ry="2.70" fill="#ff0000"/></g>
<g transform="rotate(20 28.7 81.1)"><ellipse cx="28.7" cy="81.1" rx="3.84" ry="4.27" fill="#a0ff00"/><ellipse cx="28.7" cy="81.1" rx="3.39" ry="3.82" fill="#ffe800"/><ellipse cx="28.7" cy="81.1" rx="2.91" ry="3.34" fill="#ff7800"/><ellipse cx="28.7" cy="81.1" rx="2.49" ry="2.92" fill="#ff0000"/></g>
<g><ellipse cx="23.9" cy="73.2" rx="2.75" ry="4.05" fill="#a0ff00"/><ellipse cx="23.9" cy="73.2" rx="2.30" ry="3.60" fill="#ffe800"/><ellipse cx="23.9" cy="73.2" rx="1.82" ry="3.12" fill="#ff7800"/><ellipse cx="23.9" cy="73.2" rx="1.40" ry="2.70" fill="#ff0000"/></g>
<g><ellipse cx="40.5" cy="88.5" rx="7.98" ry="4.27" fill="#a0ff00"/><ellipse cx="40.5" cy="88.5" rx="7.53" ry="3.82" fill="#ffe800"/><ellipse cx="40.5" cy="88.5" rx="7.05" ry="3.34" fill="#ff7800"/><ellipse cx="40.5" cy="88.5" rx="6.63" ry="2.92" fill="#ff0000"/></g>
<g transform="rotate(20 63.2 86.8)"><ellipse cx="63.2" cy="86.8" rx="8.42" ry="5.15" fill="#a0ff00"/><ellipse cx="63.2" cy="86.8" rx="7.97" ry="4.70" fill="#ffe800"/><ellipse cx="63.2" cy="86.8" rx="7.49" ry="4.22" fill="#ff7800"/><ellipse cx="63.2" cy="86.8" rx="7.07" ry="3.80" fill="#ff0000"/></g>
<g transform="rotate(-30 49.7 78.9)"><ellipse cx="49.7" cy="78.9" rx="3.18" ry="4.05" fill="#a0ff00"/><ellipse cx="49.7" cy="78.9" rx="2.73" ry="3.60" fill="#ffe800"/><ellipse cx="49.7" cy="78.9" rx="2.25" ry="3.12" fill="#ff7800"/><ellipse cx="49.7" cy="78.9" rx="1.83" ry="2.70" fill="#ff0000"/></g>
<g><ellipse cx="71.9" cy="80.0" rx="3.40" ry="3.40" fill="#a0ff00"/><ellipse cx="71.9" cy="80.0" rx="2.95" ry="2.95" fill="#ffe800"/><ellipse cx="71.9" cy="80.0" rx="2.47" ry="2.47" fill="#ff7800"/><ellipse cx="71.9" cy="80.0" rx="2.05" ry="2.05" fill="#ff0000"/></g>
<g transform="rotate(-20 90.7 58.8)"><ellipse cx="90.7" cy="58.8" rx="5.15" ry="3.18" fill="#a0ff00"/><ellipse cx="90.7" cy="58.8" rx="4.70" ry="2.73" fill="#ffe800"/><ellipse cx="90.7" cy="58.8" rx="4.22" ry="2.25" fill="#ff7800"/><ellipse cx="90.7" cy="58.8" rx="3.80" ry="1.83" fill="#ff0000"/></g>
<g transform="rotate(-20 78.0 62.5)"><ellipse cx="78.0" cy="62.5" rx="4.27" ry="2.31" fill="#a0ff00"/><ellipse cx="78.0" cy="62.5" rx="3.82" ry="1.86" fill="#ffe800"/><ellipse cx="78.0" cy="62.5" rx="3.34" ry="1.38" fill="#ff7800"/><ellipse cx="78.0" cy="62.5" rx="2.92" ry="0.96" fill="#ff0000"/></g>
</g></g>
<rect x="0" y="0" width="97.4" height="93.5" fill="none" stroke="#666" stroke-width="0.8"/>
<line x1="2.6" y1="93.5" x2="2.6" y2="92.2" stroke="#666" stroke-width="0.5"/>
<line x1="48.7" y1="93.5" x2="48.7" y2="92.2" stroke="#666" stroke-width="0.5"/>
<line x1="94.8" y1="93.5" x2="94.8" y2="92.2" stroke="#666" stroke-width="0.5"/>
<line x1="0" y1="2.6" x2="1.3" y2="2.6" stroke="#666" stroke-width="0.5"/>
<line x1="0" y1="46.8" x2="1.3" y2="46.8" stroke="#666" stroke-width="0.5"/>
<line x1="0" y1="90.9" x2="1.3" y2="90.9" stroke="#666" stroke-width="0.5"/>
<text x="-2.2" y="3.6" text-anchor="end" font-size="3.4" fill="#555">0.08</text>
<text x="-2.2" y="48.0" text-anchor="end" font-size="3.4" fill="#555">0</text>
<text x="-2.2" y="91.9" text-anchor="end" font-size="3.4" fill="#555">-0.08</text>
<text x="2.6" y="98.4" text-anchor="middle" font-size="3.4" fill="#555">-0.08</text>
<text x="48.7" y="98.4" text-anchor="middle" font-size="3.4" fill="#555">0</text>
<text x="94.8" y="98.4" text-anchor="middle" font-size="3.4" fill="#555">0.08</text>
<text x="48.7" y="106.1" text-anchor="middle" font-size="4.6" fill="#333">X</text>
<text transform="translate(-6.2,46.8) rotate(-90)" text-anchor="middle" font-size="4.2" fill="#444">Y</text>
</g>
<g transform="translate(177.0,162.3)">
<clipPath id="cl6"><polygon points="41.4,0.1 54.5,0.1 65.4,3.2 80.6,10.1 90.5,20.0 95.9,32.0 97.7,45.0 97.7,40.5 97.0,55.8 87.2,73.2 75.2,85.2 61.0,91.3 47.9,93.5 35.9,90.7 21.7,83.0 10.8,73.2 2.1,58.0 1.0,40.5 1.0,45.0 3.2,30.9 8.6,18.9 17.4,10.1"/></clipPath>
<polygon points="41.4,0.1 54.5,0.1 65.4,3.2 80.6,10.1 90.5,20.0 95.9,32.0 97.7,45.0 97.7,40.5 97.0,55.8 87.2,73.2 75.2,85.2 61.0,91.3 47.9,93.5 35.9,90.7 21.7,83.0 10.8,73.2 2.1,58.0 1.0,40.5 1.0,45.0 3.2,30.9 8.6,18.9 17.4,10.1" fill="#06f906"/>
<g clip-path="url(#cl6)"><g filter="url(#bl)">
<polygon points="94.2,33.0 98.1,32.0 98.1,56.2 91.6,59.3 87.2,53.6 85.0,47.0 88.3,40.5 92.4,38.9" fill="#00e8ff" stroke="#00ffb0" stroke-width="1.0" stroke-linejoin="round"/>
<polygon points="94.2,33.0 98.1,32.0 98.1,56.2 91.6,59.3 87.2,53.6 85.0,47.0 88.3,40.5 92.4,38.9" fill="#0000ff" stroke="#0060ff" stroke-width="0.5" transform="translate(0.9,0)"/>
<polygon points="6.0,25.4 -1.2,25.4 -1.2,58.0 2.5,58.8 6.9,64.9 9.3,58.0 6.5,49.2 8.2,40.5 9.1,47.7 6.0,42.9 4.7,34.1" fill="#00e8ff" stroke="#00ffb0" stroke-width="1.0" stroke-linejoin="round"/>
<polygon points="6.0,25.4 -1.2,25.4 -1.2,58.0 2.5,58.8 6.9,64.9 9.3,58.0 6.5,49.2 8.2,40.5 9.1,47.7 6.0,42.9 4.7,34.1" fill="#0000ff" stroke="#0060ff" stroke-width="0.5" transform="translate(0.9,0)"/>
<ellipse cx="52.3" cy="15.6" rx="5.7" ry="8.2" fill="url(#gc)" transform="rotate(-20 52.3 15.6)"/>
<ellipse cx="58.8" cy="5.8" rx="3.2" ry="3.8" fill="url(#gc)"/>
<ellipse cx="21.7" cy="16.7" rx="5.7" ry="2.5" fill="url(#gc)" transform="rotate(-20 21.7 16.7)"/>
<ellipse cx="63.2" cy="18.9" rx="4.4" ry="2.5" fill="url(#gc)"/>
<ellipse cx="62.1" cy="85.2" rx="10.1" ry="6.3" fill="url(#gc)" transform="rotate(-20 62.1 85.2)"/>
<ellipse cx="41.4" cy="70.0" rx="8.2" ry="3.2" fill="url(#gc)"/>
<ellipse cx="62.1" cy="71.0" rx="4.4" ry="2.5" fill="url(#gc)"/>
<ellipse cx="32.6" cy="87.4" rx="4.4" ry="2.5" fill="url(#gc)"/>
<ellipse cx="68.9" cy="10.1" rx="7.0" ry="5.1" fill="url(#gy)" transform="rotate(10 68.9 10.1)"/>
<ellipse cx="74.1" cy="23.2" rx="5.1" ry="3.2" fill="url(#gy)"/>
<ellipse cx="37.4" cy="13.4" rx="2.5" ry="3.2" fill="url(#gy)"/>
<ellipse cx="22.2" cy="27.6" rx="4.7" ry="3.5" fill="url(#gy)"/>
<ellipse cx="50.7" cy="34.8" rx="3.5" ry="3.5" fill="url(#gy)"/>
<ellipse cx="35.9" cy="40.7" rx="2.2" ry="2.2" fill="url(#gy)"/>
<ellipse cx="91.1" cy="32.0" rx="1.9" ry="5.7" fill="url(#gy)"/>
<ellipse cx="62.1" cy="42.9" rx="1.9" ry="1.9" fill="url(#gy)"/>
<ellipse cx="30.5" cy="10.1" rx="1.9" ry="2.5" fill="url(#gy)"/>
<ellipse cx="82.8" cy="23.2" rx="1.9" ry="2.5" fill="url(#gy)"/>
<ellipse cx="18.5" cy="35.2" rx="5.1" ry="1.9" fill="url(#gy)" transform="rotate(-10 18.5 35.2)"/>
<ellipse cx="48.3" cy="56.9" rx="6.3" ry="6.3" fill="url(#gy)"/>
<ellipse cx="37.0" cy="53.6" rx="5.1" ry="3.2" fill="url(#gy)"/>
<ellipse cx="46.2" cy="75.0" rx="6.3" ry="4.4" fill="url(#gy)"/>
<ellipse cx="54.9" cy="79.8" rx="4.7" ry="3.2" fill="url(#gy)" transform="rotate(-20 54.9 79.8)"/>
<ellipse cx="21.7" cy="79.3" rx="3.8" ry="5.1" fill="url(#gy)"/>
<ellipse cx="29.6" cy="80.9" rx="2.8" ry="2.5" fill="url(#gy)"/>
<ellipse cx="77.4" cy="51.0" rx="2.2" ry="2.2" fill="url(#gy)"/>
<ellipse cx="76.3" cy="62.3" rx="3.5" ry="1.9" fill="url(#gy)"/>
<ellipse cx="88.3" cy="64.5" rx="2.8" ry="1.9" fill="url(#gy)"/>
<ellipse cx="73.0" cy="80.9" rx="2.8" ry="1.6" fill="url(#gy)"/>
<ellipse cx="13.0" cy="47.0" rx="2.5" ry="1.9" fill="url(#gy)"/>
<g><ellipse cx="77.4" cy="50.5" rx="1.84" ry="1.84" fill="#a0ff00"/><ellipse cx="77.4" cy="50.5" rx="1.34" ry="1.34" fill="#ffe800"/><ellipse cx="77.4" cy="50.5" rx="0.74" ry="0.74" fill="#ff8a00"/><ellipse cx="77.4" cy="50.5" rx="0.24" ry="0.24" fill="#ff3000"/></g>
<g transform="rotate(-30 37.4 4.9)"><ellipse cx="37.4" cy="4.9" rx="6.89" ry="3.62" fill="#00ff90"/><ellipse cx="37.4" cy="4.9" rx="6.44" ry="3.17" fill="#00f0ff"/><ellipse cx="37.4" cy="4.9" rx="5.96" ry="2.69" fill="#0088ff"/><ellipse cx="37.4" cy="4.9" rx="5.54" ry="2.27" fill="#0000ff"/></g>
<g transform="rotate(40 79.3 11.2)"><ellipse cx="79.3" cy="11.2" rx="3.62" ry="2.53" fill="#00ff90"/><ellipse cx="79.3" cy="11.2" rx="3.17" ry="2.08" fill="#00f0ff"/><ellipse cx="79.3" cy="11.2" rx="2.69" ry="1.60" fill="#0088ff"/><ellipse cx="79.3" cy="11.2" rx="2.27" ry="1.18" fill="#0000ff"/></g>
<g><ellipse cx="10.2" cy="42.9" rx="3.62" ry="2.75" fill="#00ff90"/><ellipse cx="10.2" cy="42.9" rx="3.17" ry="2.30" fill="#00f0ff"/><ellipse cx="10.2" cy="42.9" rx="2.69" ry="1.82" fill="#0088ff"/><ellipse cx="10.2" cy="42.9" rx="2.27" ry="1.40" fill="#0000ff"/></g>
<g transform="rotate(-20 60.6 85.9)"><ellipse cx="60.6" cy="85.9" rx="5.80" ry="3.84" fill="#00ff90"/><ellipse cx="60.6" cy="85.9" rx="5.35" ry="3.39" fill="#00f0ff"/><ellipse cx="60.6" cy="85.9" rx="4.87" ry="2.91" fill="#0088ff"/><ellipse cx="60.6" cy="85.9" rx="4.45" ry="2.49" fill="#0000ff"/></g>
<g><ellipse cx="46.8" cy="4.0" rx="4.27" ry="5.36" fill="#a0ff00"/><ellipse cx="46.8" cy="4.0" rx="3.82" ry="4.91" fill="#ffe800"/><ellipse cx="46.8" cy="4.0" rx="3.34" ry="4.43" fill="#ff7800"/><ellipse cx="46.8" cy="4.0" rx="2.92" ry="4.01" fill="#ff0000"/></g>
<g><ellipse cx="82.4" cy="15.6" rx="3.84" ry="4.27" fill="#a0ff00"/><ellipse cx="82.4" cy="15.6" rx="3.39" ry="3.82" fill="#ffe800"/><ellipse cx="82.4" cy="15.6" rx="2.91" ry="3.34" fill="#ff7800"/><ellipse cx="82.4" cy="15.6" rx="2.49" ry="2.92" fill="#ff0000"/></g>
<g transform="rotate(-20 10.8 21.7)"><ellipse cx="10.8" cy="21.7" rx="3.84" ry="2.96" fill="#a0ff00"/><ellipse cx="10.8" cy="21.7" rx="3.39" ry="2.51" fill="#ffe800"/><ellipse cx="10.8" cy="21.7" rx="2.91" ry="2.03" fill="#ff7800"/><ellipse cx="10.8" cy="21.7" rx="2.49" ry="1.61" fill="#ff0000"/></g>
<g transform="rotate(-20 9.1 32.4)"><ellipse cx="9.1" cy="32.4" rx="5.15" ry="3.84" fill="#a0ff00"/><ellipse cx="9.1" cy="32.4" rx="4.70" ry="3.39" fill="#ffe800"/><ellipse cx="9.1" cy="32.4" rx="4.22" ry="2.91" fill="#ff7800"/><ellipse cx="9.1" cy="32.4" rx="3.80" ry="2.49" fill="#ff0000"/></g>
<g><ellipse cx="15.2" cy="41.1" rx="3.18" ry="3.40" fill="#a0ff00"/><ellipse cx="15.2" cy="41.1" rx="2.73" ry="2.95" fill="#ffe800"/><ellipse cx="15.2" cy="41.1" rx="2.25" ry="2.47" fill="#ff7800"/><ellipse cx="15.2" cy="41.1" rx="1.83" ry="2.05" fill="#ff0000"/></g>
<g><ellipse cx="48.3" cy="57.1" rx="3.62" ry="4.05" fill="#a0ff00"/><ellipse cx="48.3" cy="57.1" rx="3.17" ry="3.60" fill="#ffe800"/><ellipse cx="48.3" cy="57.1" rx="2.69" ry="3.12" fill="#ff7800"/><ellipse cx="48.3" cy="57.1" rx="2.27" ry="2.70" fill="#ff0000"/></g>
<g><ellipse cx="45.7" cy="75.0" rx="3.40" ry="2.96" fill="#a0ff00"/><ellipse cx="45.7" cy="75.0" rx="2.95" ry="2.51" fill="#ffe800"/><ellipse cx="45.7" cy="75.0" rx="2.47" ry="2.03" fill="#ff7800"/><ellipse cx="45.7" cy="75.0" rx="2.05" ry="1.61" fill="#ff0000"/></g>
<g><ellipse cx="21.7" cy="79.6" rx="2.53" ry="3.40" fill="#a0ff00"/><ellipse cx="21.7" cy="79.6" rx="2.08" ry="2.95" fill="#ffe800"/><ellipse cx="21.7" cy="79.6" rx="1.60" ry="2.47" fill="#ff7800"/><ellipse cx="21.7" cy="79.6" rx="1.18" ry="2.05" fill="#ff0000"/></g>
<g><ellipse cx="44.9" cy="90.2" rx="7.33" ry="4.27" fill="#a0ff00"/><ellipse cx="44.9" cy="90.2" rx="6.88" ry="3.82" fill="#ffe800"/><ellipse cx="44.9" cy="90.2" rx="6.40" ry="3.34" fill="#ff7800"/><ellipse cx="44.9" cy="90.2" rx="5.98" ry="2.92" fill="#ff0000"/></g>
<g><ellipse cx="15.2" cy="41.6" rx="3.18" ry="2.96" fill="#a0ff00"/><ellipse cx="15.2" cy="41.6" rx="2.73" ry="2.51" fill="#ffe800"/><ellipse cx="15.2" cy="41.6" rx="2.25" ry="2.03" fill="#ff7800"/><ellipse cx="15.2" cy="41.6" rx="1.83" ry="1.61" fill="#ff0000"/></g>
<g><ellipse cx="10.8" cy="68.9" rx="2.09" ry="2.31" fill="#a0ff00"/><ellipse cx="10.8" cy="68.9" rx="1.64" ry="1.86" fill="#ffe800"/><ellipse cx="10.8" cy="68.9" rx="1.16" ry="1.38" fill="#ff7800"/><ellipse cx="10.8" cy="68.9" rx="0.74" ry="0.96" fill="#ff0000"/></g>
</g></g>
<path d="M98.2,0 H0 V93.5 H95.9" fill="none" stroke="#666" stroke-width="0.8"/>
<line x1="2.6" y1="93.5" x2="2.6" y2="92.2" stroke="#666" stroke-width="0.5"/>
<line x1="48.7" y1="93.5" x2="48.7" y2="92.2" stroke="#666" stroke-width="0.5"/>
<line x1="94.8" y1="93.5" x2="94.8" y2="92.2" stroke="#666" stroke-width="0.5"/>
<line x1="0" y1="2.6" x2="1.3" y2="2.6" stroke="#666" stroke-width="0.5"/>
<line x1="0" y1="46.8" x2="1.3" y2="46.8" stroke="#666" stroke-width="0.5"/>
<line x1="0" y1="90.9" x2="1.3" y2="90.9" stroke="#666" stroke-width="0.5"/>
<text x="-2.2" y="3.6" text-anchor="end" font-size="3.4" fill="#555">0.08</text>
<text x="-2.2" y="48.0" text-anchor="end" font-size="3.4" fill="#555">0</text>
<text x="-2.2" y="91.9" text-anchor="end" font-size="3.4" fill="#555">-0.08</text>
<text x="2.6" y="98.4" text-anchor="middle" font-size="3.4" fill="#555">-0.08</text>
<text x="48.7" y="98.4" text-anchor="middle" font-size="3.4" fill="#555">0</text>
<text x="94.8" y="98.4" text-anchor="middle" font-size="3.4" fill="#555">0.08</text>
<text x="48.7" y="106.1" text-anchor="middle" font-size="4.6" fill="#333">X</text>
<text transform="translate(-6.2,46.8) rotate(-90)" text-anchor="middle" font-size="4.2" fill="#444">Y</text>
</g>
<g transform="translate(286.4,162.3)">
<clipPath id="cl7"><polygon points="41.4,0.1 61.0,0.1 76.3,8.0 85.0,14.5 91.6,25.4 95.9,36.3 97.7,47.2 97.7,40.5 95.9,60.1 85.0,75.4 73.0,86.3 61.0,91.8 47.9,93.5 35.9,91.1 21.7,83.7 10.8,73.2 3.2,61.2 1.0,40.5 1.0,40.7 3.2,29.8 8.6,18.9 17.4,10.1"/></clipPath>
<polygon points="41.4,0.1 61.0,0.1 76.3,8.0 85.0,14.5 91.6,25.4 95.9,36.3 97.7,47.2 97.7,40.5 95.9,60.1 85.0,75.4 73.0,86.3 61.0,91.8 47.9,93.5 35.9,91.1 21.7,83.7 10.8,73.2 3.2,61.2 1.0,40.5 1.0,40.7 3.2,29.8 8.6,18.9 17.4,10.1" fill="#06f906"/>
<g clip-path="url(#cl7)"><g filter="url(#bl)">
<ellipse cx="51.2" cy="34.1" rx="4.1" ry="4.1" fill="url(#gc)"/>
<ellipse cx="21.7" cy="28.7" rx="4.1" ry="2.8" fill="url(#gc)"/>
<ellipse cx="34.8" cy="39.6" rx="4.7" ry="2.8" fill="url(#gc)"/>
<ellipse cx="59.9" cy="44.0" rx="3.5" ry="2.5" fill="url(#gc)"/>
<ellipse cx="69.7" cy="23.2" rx="3.5" ry="3.5" fill="url(#gc)"/>
<ellipse cx="55.6" cy="14.5" rx="5.1" ry="2.8" fill="url(#gc)"/>
<ellipse cx="86.1" cy="42.9" rx="3.2" ry="2.5" fill="url(#gc)"/>
<ellipse cx="44.6" cy="25.4" rx="2.5" ry="2.5" fill="url(#gc)"/>
<ellipse cx="46.8" cy="54.9" rx="5.7" ry="4.4" fill="url(#gc)"/>
<ellipse cx="35.9" cy="54.0" rx="6.3" ry="3.2" fill="url(#gc)"/>
<ellipse cx="80.6" cy="59.0" rx="4.7" ry="2.5" fill="url(#gc)"/>
<ellipse cx="76.3" cy="51.4" rx="2.5" ry="2.5" fill="url(#gc)"/>
<ellipse cx="40.3" cy="73.2" rx="4.7" ry="2.5" fill="url(#gc)"/>
<ellipse cx="48.3" cy="73.7" rx="3.2" ry="2.5" fill="url(#gc)"/>
<ellipse cx="13.0" cy="46.0" rx="3.2" ry="2.5" fill="url(#gc)"/>
<ellipse cx="85.0" cy="34.1" rx="2.5" ry="3.2" fill="url(#gy)"/>
<ellipse cx="85.0" cy="51.4" rx="4.4" ry="12.7" fill="url(#gy)"/>
<ellipse cx="72.1" cy="80.0" rx="3.2" ry="2.5" fill="url(#gy)"/>
<ellipse cx="16.3" cy="68.9" rx="3.8" ry="1.6" fill="url(#gy)" transform="rotate(30 16.3 68.9)"/>
<g><ellipse cx="3.4" cy="45.0" rx="3.15" ry="7.30" fill="#a0ff00"/><ellipse cx="3.4" cy="45.0" rx="2.65" ry="6.80" fill="#ffe800"/><ellipse cx="3.4" cy="45.0" rx="2.05" ry="6.20" fill="#ff8a00"/><ellipse cx="3.4" cy="45.0" rx="1.55" ry="5.70" fill="#ff3000"/></g>
<g><ellipse cx="3.8" cy="52.5" rx="3.15" ry="9.04" fill="#a0ff00"/><ellipse cx="3.8" cy="52.5" rx="2.65" ry="8.54" fill="#ffe800"/><ellipse cx="3.8" cy="52.5" rx="2.05" ry="7.94" fill="#ff8a00"/><ellipse cx="3.8" cy="52.5" rx="1.55" ry="7.44" fill="#ff3000"/></g>
<g transform="rotate(5 47.5 4.9)"><ellipse cx="47.5" cy="4.9" rx="8.20" ry="4.49" fill="#00ff90"/><ellipse cx="47.5" cy="4.9" rx="7.75" ry="4.04" fill="#00f0ff"/><ellipse cx="47.5" cy="4.9" rx="7.27" ry="3.56" fill="#0088ff"/><ellipse cx="47.5" cy="4.9" rx="6.85" ry="3.14" fill="#0000ff"/></g>
<g><ellipse cx="40.3" cy="8.4" rx="3.84" ry="2.75" fill="#00ff90"/><ellipse cx="40.3" cy="8.4" rx="3.39" ry="2.30" fill="#00f0ff"/><ellipse cx="40.3" cy="8.4" rx="2.91" ry="1.82" fill="#0088ff"/><ellipse cx="40.3" cy="8.4" rx="2.49" ry="1.40" fill="#0000ff"/></g>
<g><ellipse cx="64.3" cy="8.0" rx="2.75" ry="2.75" fill="#00ff90"/><ellipse cx="64.3" cy="8.0" rx="2.30" ry="2.30" fill="#00f0ff"/><ellipse cx="64.3" cy="8.0" rx="1.82" ry="1.82" fill="#0088ff"/><ellipse cx="64.3" cy="8.0" rx="1.40" ry="1.40" fill="#0000ff"/></g>
<g transform="rotate(-30 31.5 7.1)"><ellipse cx="31.5" cy="7.1" rx="4.49" ry="2.31" fill="#00ff90"/><ellipse cx="31.5" cy="7.1" rx="4.04" ry="1.86" fill="#00f0ff"/><ellipse cx="31.5" cy="7.1" rx="3.56" ry="1.38" fill="#0088ff"/><ellipse cx="31.5" cy="7.1" rx="3.14" ry="0.96" fill="#0000ff"/></g>
<g transform="rotate(20 40.5 13.6)"><ellipse cx="40.5" cy="13.6" rx="3.18" ry="2.31" fill="#00ff90"/><ellipse cx="40.5" cy="13.6" rx="2.73" ry="1.86" fill="#00f0ff"/><ellipse cx="40.5" cy="13.6" rx="2.25" ry="1.38" fill="#0088ff"/><ellipse cx="40.5" cy="13.6" rx="1.83" ry="0.96" fill="#0000ff"/></g>
<g><ellipse cx="82.0" cy="15.6" rx="4.05" ry="3.62" fill="#00ff90"/><ellipse cx="82.0" cy="15.6" rx="3.60" ry="3.17" fill="#00f0ff"/><ellipse cx="82.0" cy="15.6" rx="3.12" ry="2.69" fill="#0088ff"/><ellipse cx="82.0" cy="15.6" rx="2.70" ry="2.27" fill="#0000ff"/></g>
<g><ellipse cx="73.0" cy="10.1" rx="2.75" ry="2.75" fill="#00ff90"/><ellipse cx="73.0" cy="10.1" rx="2.30" ry="2.30" fill="#00f0ff"/><ellipse cx="73.0" cy="10.1" rx="1.82" ry="1.82" fill="#0088ff"/><ellipse cx="73.0" cy="10.1" rx="1.40" ry="1.40" fill="#0000ff"/></g>
<g transform="rotate(20 77.4 8.8)"><ellipse cx="77.4" cy="8.8" rx="2.96" ry="2.09" fill="#00ff90"/><ellipse cx="77.4" cy="8.8" rx="2.51" ry="1.64" fill="#00f0ff"/><ellipse cx="77.4" cy="8.8" rx="2.03" ry="1.16" fill="#0088ff"/><ellipse cx="77.4" cy="8.8" rx="1.61" ry="0.74" fill="#0000ff"/></g>
<g><ellipse cx="94.0" cy="37.6" rx="2.75" ry="3.84" fill="#00ff90"/><ellipse cx="94.0" cy="37.6" rx="2.30" ry="3.39" fill="#00f0ff"/><ellipse cx="94.0" cy="37.6" rx="1.82" ry="2.91" fill="#0088ff"/><ellipse cx="94.0" cy="37.6" rx="1.40" ry="2.49" fill="#0000ff"/></g>
<g><ellipse cx="9.1" cy="36.8" rx="5.80" ry="6.45" fill="#00ff90"/><ellipse cx="9.1" cy="36.8" rx="5.35" ry="6.00" fill="#00f0ff"/><ellipse cx="9.1" cy="36.8" rx="4.87" ry="5.52" fill="#0088ff"/><ellipse cx="9.1" cy="36.8" rx="4.45" ry="5.10" fill="#0000ff"/></g>
<g><ellipse cx="15.2" cy="40.9" rx="2.96" ry="2.75" fill="#00ff90"/><ellipse cx="15.2" cy="40.9" rx="2.51" ry="2.30" fill="#00f0ff"/><ellipse cx="15.2" cy="40.9" rx="2.03" ry="1.82" fill="#0088ff"/><ellipse cx="15.2" cy="40.9" rx="1.61" ry="1.40" fill="#0000ff"/></g>
<g><ellipse cx="89.2" cy="65.8" rx="2.09" ry="2.09" fill="#00ff90"/><ellipse cx="89.2" cy="65.8" rx="1.64" ry="1.64" fill="#00f0ff"/><ellipse cx="89.2" cy="65.8" rx="1.16" ry="1.16" fill="#0088ff"/><ellipse cx="89.2" cy="65.8" rx="0.74" ry="0.74" fill="#0000ff"/></g>
<g><ellipse cx="49.2" cy="56.4" rx="3.84" ry="3.62" fill="#00ff90"/><ellipse cx="49.2" cy="56.4" rx="3.39" ry="3.17" fill="#00f0ff"/><ellipse cx="49.2" cy="56.4" rx="2.91" ry="2.69" fill="#0088ff"/><ellipse cx="49.2" cy="56.4" rx="2.49" ry="2.27" fill="#0000ff"/></g>
<g><ellipse cx="19.5" cy="62.3" rx="3.62" ry="4.27" fill="#00ff90"/><ellipse cx="19.5" cy="62.3" rx="3.17" ry="3.82" fill="#00f0ff"/><ellipse cx="19.5" cy="62.3" rx="2.69" ry="3.34" fill="#0088ff"/><ellipse cx="19.5" cy="62.3" rx="2.27" ry="2.92" fill="#0000ff"/></g>
<g><ellipse cx="21.7" cy="81.1" rx="3.62" ry="3.18" fill="#00ff90"/><ellipse cx="21.7" cy="81.1" rx="3.17" ry="2.73" fill="#00f0ff"/><ellipse cx="21.7" cy="81.1" rx="2.69" ry="2.25" fill="#0088ff"/><ellipse cx="21.7" cy="81.1" rx="2.27" ry="1.83" fill="#0000ff"/></g>
<g><ellipse cx="28.5" cy="76.7" rx="3.18" ry="2.75" fill="#00ff90"/><ellipse cx="28.5" cy="76.7" rx="2.73" ry="2.30" fill="#00f0ff"/><ellipse cx="28.5" cy="76.7" rx="2.25" ry="1.82" fill="#0088ff"/><ellipse cx="28.5" cy="76.7" rx="1.83" ry="1.40" fill="#0000ff"/></g>
<g><ellipse cx="11.0" cy="70.2" rx="2.31" ry="2.31" fill="#00ff90"/><ellipse cx="11.0" cy="70.2" rx="1.86" ry="1.86" fill="#00f0ff"/><ellipse cx="11.0" cy="70.2" rx="1.38" ry="1.38" fill="#0088ff"/><ellipse cx="11.0" cy="70.2" rx="0.96" ry="0.96" fill="#0000ff"/></g>
<g><ellipse cx="56.2" cy="79.6" rx="3.62" ry="4.05" fill="#00ff90"/><ellipse cx="56.2" cy="79.6" rx="3.17" ry="3.60" fill="#00f0ff"/><ellipse cx="56.2" cy="79.6" rx="2.69" ry="3.12" fill="#0088ff"/><ellipse cx="56.2" cy="79.6" rx="2.27" ry="2.70" fill="#0000ff"/></g>
<g><ellipse cx="14.1" cy="42.2" rx="2.75" ry="2.31" fill="#00ff90"/><ellipse cx="14.1" cy="42.2" rx="2.30" ry="1.86" fill="#00f0ff"/><ellipse cx="14.1" cy="42.2" rx="1.82" ry="1.38" fill="#0088ff"/><ellipse cx="14.1" cy="42.2" rx="1.40" ry="0.96" fill="#0000ff"/></g>
<g><ellipse cx="59.0" cy="5.3" rx="5.15" ry="5.36" fill="#a0ff00"/><ellipse cx="59.0" cy="5.3" rx="4.70" ry="4.91" fill="#ffe800"/><ellipse cx="59.0" cy="5.3" rx="4.22" ry="4.43" fill="#ff7800"/><ellipse cx="59.0" cy="5.3" rx="3.80" ry="4.01" fill="#ff0000"/></g>
<g transform="rotate(-20 23.9 12.3)"><ellipse cx="23.9" cy="12.3" rx="6.24" ry="3.40" fill="#a0ff00"/><ellipse cx="23.9" cy="12.3" rx="5.79" ry="2.95" fill="#ffe800"/><ellipse cx="23.9" cy="12.3" rx="5.31" ry="2.47" fill="#ff7800"/><ellipse cx="23.9" cy="12.3" rx="4.89" ry="2.05" fill="#ff0000"/></g>
<g><ellipse cx="34.8" cy="11.4" rx="2.31" ry="2.09" fill="#a0ff00"/><ellipse cx="34.8" cy="11.4" rx="1.86" ry="1.64" fill="#ffe800"/><ellipse cx="34.8" cy="11.4" rx="1.38" ry="1.16" fill="#ff7800"/><ellipse cx="34.8" cy="11.4" rx="0.96" ry="0.74" fill="#ff0000"/></g>
<g><ellipse cx="82.8" cy="22.4" rx="3.40" ry="2.75" fill="#a0ff00"/><ellipse cx="82.8" cy="22.4" rx="2.95" ry="2.30" fill="#ffe800"/><ellipse cx="82.8" cy="22.4" rx="2.47" ry="1.82" fill="#ff7800"/><ellipse cx="82.8" cy="22.4" rx="2.05" ry="1.40" fill="#ff0000"/></g>
<g><ellipse cx="89.6" cy="33.3" rx="3.62" ry="5.15" fill="#a0ff00"/><ellipse cx="89.6" cy="33.3" rx="3.17" ry="4.70" fill="#ffe800"/><ellipse cx="89.6" cy="33.3" rx="2.69" ry="4.22" fill="#ff7800"/><ellipse cx="89.6" cy="33.3" rx="2.27" ry="3.80" fill="#ff0000"/></g>
<g><ellipse cx="91.1" cy="49.0" rx="6.89" ry="8.42" fill="#a0ff00"/><ellipse cx="91.1" cy="49.0" rx="6.44" ry="7.97" fill="#ffe800"/><ellipse cx="91.1" cy="49.0" rx="5.96" ry="7.49" fill="#ff7800"/><ellipse cx="91.1" cy="49.0" rx="5.54" ry="7.07" fill="#ff0000"/></g>
<g><ellipse cx="10.8" cy="42.6" rx="2.31" ry="2.09" fill="#a0ff00"/><ellipse cx="10.8" cy="42.6" rx="1.86" ry="1.64" fill="#ffe800"/><ellipse cx="10.8" cy="42.6" rx="1.38" ry="1.16" fill="#ff7800"/><ellipse cx="10.8" cy="42.6" rx="0.96" ry="0.74" fill="#ff0000"/></g>
<g><ellipse cx="90.7" cy="51.4" rx="6.02" ry="11.04" fill="#a0ff00"/><ellipse cx="90.7" cy="51.4" rx="5.57" ry="10.59" fill="#ffe800"/><ellipse cx="90.7" cy="51.4" rx="5.09" ry="10.11" fill="#ff7800"/><ellipse cx="90.7" cy="51.4" rx="4.67" ry="9.69" fill="#ff0000"/></g>
<g><ellipse cx="91.6" cy="64.7" rx="2.75" ry="2.75" fill="#a0ff00"/><ellipse cx="91.6" cy="64.7" rx="2.30" ry="2.30" fill="#ffe800"/><ellipse cx="91.6" cy="64.7" rx="1.82" ry="1.82" fill="#ff7800"/><ellipse cx="91.6" cy="64.7" rx="1.40" ry="1.40" fill="#ff0000"/></g>
<g><ellipse cx="4.7" cy="56.9" rx="2.75" ry="4.05" fill="#a0ff00"/><ellipse cx="4.7" cy="56.9" rx="2.30" ry="3.60" fill="#ffe800"/><ellipse cx="4.7" cy="56.9" rx="1.82" ry="3.12" fill="#ff7800"/><ellipse cx="4.7" cy="56.9" rx="1.40" ry="2.70" fill="#ff0000"/></g>
<g><ellipse cx="25.2" cy="74.5" rx="2.31" ry="2.31" fill="#a0ff00"/><ellipse cx="25.2" cy="74.5" rx="1.86" ry="1.86" fill="#ffe800"/><ellipse cx="25.2" cy="74.5" rx="1.38" ry="1.38" fill="#ff7800"/><ellipse cx="25.2" cy="74.5" rx="0.96" ry="0.96" fill="#ff0000"/></g>
<g><ellipse cx="8.6" cy="68.0" rx="2.75" ry="3.62" fill="#a0ff00"/><ellipse cx="8.6" cy="68.0" rx="2.30" ry="3.17" fill="#ffe800"/><ellipse cx="8.6" cy="68.0" rx="1.82" ry="2.69" fill="#ff7800"/><ellipse cx="8.6" cy="68.0" rx="1.40" ry="2.27" fill="#ff0000"/></g>
<g transform="rotate(-10 39.4 89.2)"><ellipse cx="39.4" cy="89.2" rx="5.15" ry="3.18" fill="#a0ff00"/><ellipse cx="39.4" cy="89.2" rx="4.70" ry="2.73" fill="#ffe800"/><ellipse cx="39.4" cy="89.2" rx="4.22" ry="2.25" fill="#ff7800"/><ellipse cx="39.4" cy="89.2" rx="3.80" ry="1.83" fill="#ff0000"/></g>
<g transform="rotate(20 62.3 86.5)"><ellipse cx="62.3" cy="86.5" rx="7.33" ry="4.71" fill="#a0ff00"/><ellipse cx="62.3" cy="86.5" rx="6.88" ry="4.26" fill="#ffe800"/><ellipse cx="62.3" cy="86.5" rx="6.40" ry="3.78" fill="#ff7800"/><ellipse cx="62.3" cy="86.5" rx="5.98" ry="3.36" fill="#ff0000"/></g>
<g><ellipse cx="48.3" cy="92.0" rx="2.96" ry="2.31" fill="#a0ff00"/><ellipse cx="48.3" cy="92.0" rx="2.51" ry="1.86" fill="#ffe800"/><ellipse cx="48.3" cy="92.0" rx="2.03" ry="1.38" fill="#ff7800"/><ellipse cx="48.3" cy="92.0" rx="1.61" ry="0.96" fill="#ff0000"/></g>
</g></g>
<rect x="0" y="0" width="97.4" height="93.5" fill="none" stroke="#666" stroke-width="0.8"/>
<line x1="2.6" y1="93.5" x2="2.6" y2="92.2" stroke="#666" stroke-width="0.5"/>
<line x1="48.7" y1="93.5" x2="48.7" y2="92.2" stroke="#666" stroke-width="0.5"/>
<line x1="94.8" y1="93.5" x2="94.8" y2="92.2" stroke="#666" stroke-width="0.5"/>
<line x1="0" y1="2.6" x2="1.3" y2="2.6" stroke="#666" stroke-width="0.5"/>
<line x1="0" y1="46.8" x2="1.3" y2="46.8" stroke="#666" stroke-width="0.5"/>
<line x1="0" y1="90.9" x2="1.3" y2="90.9" stroke="#666" stroke-width="0.5"/>
<text x="-2.2" y="3.6" text-anchor="end" font-size="3.4" fill="#555">0.08</text>
<text x="-2.2" y="48.0" text-anchor="end" font-size="3.4" fill="#555">0</text>
<text x="-2.2" y="91.9" text-anchor="end" font-size="3.4" fill="#555">-0.08</text>
<text x="2.6" y="98.4" text-anchor="middle" font-size="3.4" fill="#555">-0.08</text>
<text x="48.7" y="98.4" text-anchor="middle" font-size="3.4" fill="#555">0</text>
<text x="94.8" y="98.4" text-anchor="middle" font-size="3.4" fill="#555">0.08</text>
<text x="48.7" y="106.1" text-anchor="middle" font-size="4.6" fill="#333">X</text>
<text transform="translate(-6.2,46.8) rotate(-90)" text-anchor="middle" font-size="4.2" fill="#444">Y</text>
</g>
<g transform="translate(396.6,162.3)">
<clipPath id="cl8"><polygon points="41.4,0.1 61.0,0.1 78.5,8.0 87.2,16.7 92.6,27.6 97.7,34.1 97.7,40.5 97.0,58.0 85.0,75.4 73.0,86.3 61.0,91.3 47.9,93.5 35.9,91.1 21.7,84.1 10.8,75.4 2.1,58.0 1.0,40.5 1.0,42.9 3.2,29.8 8.6,18.9 17.4,10.1"/></clipPath>
<polygon points="41.4,0.1 61.0,0.1 78.5,8.0 87.2,16.7 92.6,27.6 97.7,34.1 97.7,40.5 97.0,58.0 85.0,75.4 73.0,86.3 61.0,91.3 47.9,93.5 35.9,91.1 21.7,84.1 10.8,75.4 2.1,58.0 1.0,40.5 1.0,42.9 3.2,29.8 8.6,18.9 17.4,10.1" fill="#06f906"/>
<g clip-path="url(#cl8)"><g filter="url(#bl)">
<polygon points="94.2,33.7 98.1,32.0 98.1,56.2 94.2,60.6 86.1,56.6 79.6,52.3 85.0,44.9 88.3,40.5 91.6,39.6" fill="#00e8ff" stroke="#00ffb0" stroke-width="1.0" stroke-linejoin="round"/>
<polygon points="94.2,33.7 98.1,32.0 98.1,56.2 94.2,60.6 86.1,56.6 79.6,52.3 85.0,44.9 88.3,40.5 91.6,39.6" fill="#0000ff" stroke="#0060ff" stroke-width="0.5" transform="translate(0.9,0)"/>
<ellipse cx="21.7" cy="12.3" rx="6.0" ry="3.2" fill="url(#gc)"/>
<ellipse cx="34.8" cy="5.8" rx="8.2" ry="1.9" fill="url(#gc)" transform="rotate(-20 34.8 5.8)"/>
<ellipse cx="19.5" cy="27.6" rx="9.8" ry="2.5" fill="url(#gc)" transform="rotate(-15 19.5 27.6)"/>
<ellipse cx="50.1" cy="15.6" rx="4.7" ry="2.5" fill="url(#gc)"/>
<ellipse cx="78.5" cy="55.8" rx="3.2" ry="5.7" fill="url(#gc)" transform="rotate(30 78.5 55.8)"/>
<ellipse cx="59.9" cy="85.9" rx="7.0" ry="5.7" fill="url(#gc)"/>
<ellipse cx="19.5" cy="51.4" rx="2.5" ry="1.6" fill="url(#gc)"/>
<ellipse cx="39.2" cy="80.9" rx="3.2" ry="1.9" fill="url(#gc)"/>
<ellipse cx="22.2" cy="34.1" rx="4.1" ry="1.3" fill="url(#gy)" transform="rotate(-10 22.2 34.1)"/>
<ellipse cx="14.1" cy="56.9" rx="1.3" ry="2.8" fill="url(#gy)"/>
<g><ellipse cx="3.4" cy="50.7" rx="2.93" ry="2.93" fill="#a0ff00"/><ellipse cx="3.4" cy="50.7" rx="2.43" ry="2.43" fill="#ffe800"/><ellipse cx="3.4" cy="50.7" rx="1.83" ry="1.83" fill="#ff8a00"/><ellipse cx="3.4" cy="50.7" rx="1.33" ry="1.33" fill="#ff3000"/></g>
<g><ellipse cx="66.5" cy="67.8" rx="3.15" ry="2.06" fill="#a0ff00"/><ellipse cx="66.5" cy="67.8" rx="2.65" ry="1.56" fill="#ffe800"/><ellipse cx="66.5" cy="67.8" rx="2.05" ry="0.96" fill="#ff8a00"/><ellipse cx="66.5" cy="67.8" rx="1.55" ry="0.46" fill="#ff3000"/></g>
<g><ellipse cx="44.6" cy="92.6" rx="3.59" ry="1.84" fill="#a0ff00"/><ellipse cx="44.6" cy="92.6" rx="3.09" ry="1.34" fill="#ffe800"/><ellipse cx="44.6" cy="92.6" rx="2.49" ry="0.74" fill="#ff8a00"/><ellipse cx="44.6" cy="92.6" rx="1.99" ry="0.24" fill="#ff3000"/></g>
<g><ellipse cx="25.0" cy="64.5" rx="1.62" ry="2.93" fill="#a0ff00"/><ellipse cx="25.0" cy="64.5" rx="1.12" ry="2.43" fill="#ffe800"/><ellipse cx="25.0" cy="64.5" rx="0.52" ry="1.83" fill="#ff8a00"/></g>
<g transform="rotate(10 51.4 5.3)"><ellipse cx="51.4" cy="5.3" rx="6.24" ry="5.58" fill="#00ff90"/><ellipse cx="51.4" cy="5.3" rx="5.79" ry="5.13" fill="#00f0ff"/><ellipse cx="51.4" cy="5.3" rx="5.31" ry="4.65" fill="#0088ff"/><ellipse cx="51.4" cy="5.3" rx="4.89" ry="4.23" fill="#0000ff"/></g>
<g><ellipse cx="63.6" cy="6.2" rx="2.75" ry="3.18" fill="#00ff90"/><ellipse cx="63.6" cy="6.2" rx="2.30" ry="2.73" fill="#00f0ff"/><ellipse cx="63.6" cy="6.2" rx="1.82" ry="2.25" fill="#0088ff"/><ellipse cx="63.6" cy="6.2" rx="1.40" ry="1.83" fill="#0000ff"/></g>
<g transform="rotate(30 76.5 11.4)"><ellipse cx="76.5" cy="11.4" rx="3.18" ry="2.75" fill="#00ff90"/><ellipse cx="76.5" cy="11.4" rx="2.73" ry="2.30" fill="#00f0ff"/><ellipse cx="76.5" cy="11.4" rx="2.25" ry="1.82" fill="#0088ff"/><ellipse cx="76.5" cy="11.4" rx="1.83" ry="1.40" fill="#0000ff"/></g>
<g><ellipse cx="80.6" cy="13.6" rx="2.75" ry="2.31" fill="#00ff90"/><ellipse cx="80.6" cy="13.6" rx="2.30" ry="1.86" fill="#00f0ff"/><ellipse cx="80.6" cy="13.6" rx="1.82" ry="1.38" fill="#0088ff"/><ellipse cx="80.6" cy="13.6" rx="1.40" ry="0.96" fill="#0000ff"/></g>
<g><ellipse cx="8.6" cy="20.0" rx="2.75" ry="2.31" fill="#00ff90"/><ellipse cx="8.6" cy="20.0" rx="2.30" ry="1.86" fill="#00f0ff"/><ellipse cx="8.6" cy="20.0" rx="1.82" ry="1.38" fill="#0088ff"/><ellipse cx="8.6" cy="20.0" rx="1.40" ry="0.96" fill="#0000ff"/></g>
<g transform="rotate(-30 14.1 40.9)"><ellipse cx="14.1" cy="40.9" rx="3.84" ry="2.53" fill="#00ff90"/><ellipse cx="14.1" cy="40.9" rx="3.39" ry="2.08" fill="#00f0ff"/><ellipse cx="14.1" cy="40.9" rx="2.91" ry="1.60" fill="#0088ff"/><ellipse cx="14.1" cy="40.9" rx="2.49" ry="1.18" fill="#0000ff"/></g>
<g><ellipse cx="3.0" cy="37.4" rx="2.75" ry="6.45" fill="#00ff90"/><ellipse cx="3.0" cy="37.4" rx="2.30" ry="6.00" fill="#00f0ff"/><ellipse cx="3.0" cy="37.4" rx="1.82" ry="5.52" fill="#0088ff"/><ellipse cx="3.0" cy="37.4" rx="1.40" ry="5.10" fill="#0000ff"/></g>
<g transform="rotate(20 83.5 62.3)"><ellipse cx="83.5" cy="62.3" rx="4.27" ry="2.31" fill="#00ff90"/><ellipse cx="83.5" cy="62.3" rx="3.82" ry="1.86" fill="#00f0ff"/><ellipse cx="83.5" cy="62.3" rx="3.34" ry="1.38" fill="#0088ff"/><ellipse cx="83.5" cy="62.3" rx="2.92" ry="0.96" fill="#0000ff"/></g>
<g><ellipse cx="3.0" cy="44.9" rx="2.31" ry="3.62" fill="#00ff90"/><ellipse cx="3.0" cy="44.9" rx="1.86" ry="3.17" fill="#00f0ff"/><ellipse cx="3.0" cy="44.9" rx="1.38" ry="2.69" fill="#0088ff"/><ellipse cx="3.0" cy="44.9" rx="0.96" ry="2.27" fill="#0000ff"/></g>
<g><ellipse cx="7.8" cy="41.6" rx="3.62" ry="2.75" fill="#00ff90"/><ellipse cx="7.8" cy="41.6" rx="3.17" ry="2.30" fill="#00f0ff"/><ellipse cx="7.8" cy="41.6" rx="2.69" ry="1.82" fill="#0088ff"/><ellipse cx="7.8" cy="41.6" rx="2.27" ry="1.40" fill="#0000ff"/></g>
<g><ellipse cx="18.5" cy="62.3" rx="3.18" ry="4.27" fill="#00ff90"/><ellipse cx="18.5" cy="62.3" rx="2.73" ry="3.82" fill="#00f0ff"/><ellipse cx="18.5" cy="62.3" rx="2.25" ry="3.34" fill="#0088ff"/><ellipse cx="18.5" cy="62.3" rx="1.83" ry="2.92" fill="#0000ff"/></g>
<g><ellipse cx="28.1" cy="75.4" rx="2.31" ry="3.18" fill="#00ff90"/><ellipse cx="28.1" cy="75.4" rx="1.86" ry="2.73" fill="#00f0ff"/><ellipse cx="28.1" cy="75.4" rx="1.38" ry="2.25" fill="#0088ff"/><ellipse cx="28.1" cy="75.4" rx="0.96" ry="1.83" fill="#0000ff"/></g>
<g><ellipse cx="8.6" cy="72.4" rx="2.96" ry="4.05" fill="#00ff90"/><ellipse cx="8.6" cy="72.4" rx="2.51" ry="3.60" fill="#00f0ff"/><ellipse cx="8.6" cy="72.4" rx="2.03" ry="3.12" fill="#0088ff"/><ellipse cx="8.6" cy="72.4" rx="1.61" ry="2.70" fill="#0000ff"/></g>
<g><ellipse cx="60.1" cy="86.1" rx="3.62" ry="3.18" fill="#00ff90"/><ellipse cx="60.1" cy="86.1" rx="3.17" ry="2.73" fill="#00f0ff"/><ellipse cx="60.1" cy="86.1" rx="2.69" ry="2.25" fill="#0088ff"/><ellipse cx="60.1" cy="86.1" rx="2.27" ry="1.83" fill="#0000ff"/></g>
<g transform="rotate(-15 43.1 5.3)"><ellipse cx="43.1" cy="5.3" rx="3.62" ry="5.15" fill="#a0ff00"/><ellipse cx="43.1" cy="5.3" rx="3.17" ry="4.70" fill="#ffe800"/><ellipse cx="43.1" cy="5.3" rx="2.69" ry="4.22" fill="#ff7800"/><ellipse cx="43.1" cy="5.3" rx="2.27" ry="3.80" fill="#ff0000"/></g>
<g transform="rotate(10 59.0 5.3)"><ellipse cx="59.0" cy="5.3" rx="5.15" ry="4.49" fill="#a0ff00"/><ellipse cx="59.0" cy="5.3" rx="4.70" ry="4.04" fill="#ffe800"/><ellipse cx="59.0" cy="5.3" rx="4.22" ry="3.56" fill="#ff7800"/><ellipse cx="59.0" cy="5.3" rx="3.80" ry="3.14" fill="#ff0000"/></g>
<g transform="rotate(-10 72.4 12.3)"><ellipse cx="72.4" cy="12.3" rx="3.18" ry="4.71" fill="#a0ff00"/><ellipse cx="72.4" cy="12.3" rx="2.73" ry="4.26" fill="#ffe800"/><ellipse cx="72.4" cy="12.3" rx="2.25" ry="3.78" fill="#ff7800"/><ellipse cx="72.4" cy="12.3" rx="1.83" ry="3.36" fill="#ff0000"/></g>
<g transform="rotate(-10 83.3 18.0)"><ellipse cx="83.3" cy="18.0" rx="2.31" ry="4.27" fill="#a0ff00"/><ellipse cx="83.3" cy="18.0" rx="1.86" ry="3.82" fill="#ffe800"/><ellipse cx="83.3" cy="18.0" rx="1.38" ry="3.34" fill="#ff7800"/><ellipse cx="83.3" cy="18.0" rx="0.96" ry="2.92" fill="#ff0000"/></g>
<g><ellipse cx="90.2" cy="33.3" rx="3.62" ry="6.02" fill="#a0ff00"/><ellipse cx="90.2" cy="33.3" rx="3.17" ry="5.57" fill="#ffe800"/><ellipse cx="90.2" cy="33.3" rx="2.69" ry="5.09" fill="#ff7800"/><ellipse cx="90.2" cy="33.3" rx="2.27" ry="4.67" fill="#ff0000"/></g>
<g transform="rotate(-15 83.9 45.0)"><ellipse cx="83.9" cy="45.0" rx="3.40" ry="2.31" fill="#a0ff00"/><ellipse cx="83.9" cy="45.0" rx="2.95" ry="1.86" fill="#ffe800"/><ellipse cx="83.9" cy="45.0" rx="2.47" ry="1.38" fill="#ff7800"/><ellipse cx="83.9" cy="45.0" rx="2.05" ry="0.96" fill="#ff0000"/></g>
<g transform="rotate(-20 10.8 22.1)"><ellipse cx="10.8" cy="22.1" rx="3.40" ry="2.75" fill="#a0ff00"/><ellipse cx="10.8" cy="22.1" rx="2.95" ry="2.30" fill="#ffe800"/><ellipse cx="10.8" cy="22.1" rx="2.47" ry="1.82" fill="#ff7800"/><ellipse cx="10.8" cy="22.1" rx="2.05" ry="1.40" fill="#ff0000"/></g>
<g><ellipse cx="9.7" cy="35.4" rx="4.71" ry="5.15" fill="#a0ff00"/><ellipse cx="9.7" cy="35.4" rx="4.26" ry="4.70" fill="#ffe800"/><ellipse cx="9.7" cy="35.4" rx="3.78" ry="4.22" fill="#ff7800"/><ellipse cx="9.7" cy="35.4" rx="3.36" ry="3.80" fill="#ff0000"/></g>
<g transform="rotate(-10 16.7 37.4)"><ellipse cx="16.7" cy="37.4" rx="3.84" ry="2.09" fill="#a0ff00"/><ellipse cx="16.7" cy="37.4" rx="3.39" ry="1.64" fill="#ffe800"/><ellipse cx="16.7" cy="37.4" rx="2.91" ry="1.16" fill="#ff7800"/><ellipse cx="16.7" cy="37.4" rx="2.49" ry="0.74" fill="#ff0000"/></g>
<g transform="rotate(-20 5.6 45.3)"><ellipse cx="5.6" cy="45.3" rx="4.27" ry="2.75" fill="#a0ff00"/><ellipse cx="5.6" cy="45.3" rx="3.82" ry="2.30" fill="#ffe800"/><ellipse cx="5.6" cy="45.3" rx="3.34" ry="1.82" fill="#ff7800"/><ellipse cx="5.6" cy="45.3" rx="2.92" ry="1.40" fill="#ff0000"/></g>
<g><ellipse cx="76.7" cy="62.3" rx="4.71" ry="3.18" fill="#a0ff00"/><ellipse cx="76.7" cy="62.3" rx="4.26" ry="2.73" fill="#ffe800"/><ellipse cx="76.7" cy="62.3" rx="3.78" ry="2.25" fill="#ff7800"/><ellipse cx="76.7" cy="62.3" rx="3.36" ry="1.83" fill="#ff0000"/></g>
<g transform="rotate(-15 85.4 66.5)"><ellipse cx="85.4" cy="66.5" rx="5.15" ry="2.31" fill="#a0ff00"/><ellipse cx="85.4" cy="66.5" rx="4.70" ry="1.86" fill="#ffe800"/><ellipse cx="85.4" cy="66.5" rx="4.22" ry="1.38" fill="#ff7800"/><ellipse cx="85.4" cy="66.5" rx="3.80" ry="0.96" fill="#ff0000"/></g>
<g><ellipse cx="5.4" cy="50.3" rx="3.84" ry="6.89" fill="#a0ff00"/><ellipse cx="5.4" cy="50.3" rx="3.39" ry="6.44" fill="#ffe800"/><ellipse cx="5.4" cy="50.3" rx="2.91" ry="5.96" fill="#ff7800"/><ellipse cx="5.4" cy="50.3" rx="2.49" ry="5.54" fill="#ff0000"/></g>
<g><ellipse cx="23.9" cy="74.5" rx="2.75" ry="3.40" fill="#a0ff00"/><ellipse cx="23.9" cy="74.5" rx="2.30" ry="2.95" fill="#ffe800"/><ellipse cx="23.9" cy="74.5" rx="1.82" ry="2.47" fill="#ff7800"/><ellipse cx="23.9" cy="74.5" rx="1.40" ry="2.05" fill="#ff0000"/></g>
<g transform="rotate(10 29.6 82.2)"><ellipse cx="29.6" cy="82.2" rx="3.62" ry="4.71" fill="#a0ff00"/><ellipse cx="29.6" cy="82.2" rx="3.17" ry="4.26" fill="#ffe800"/><ellipse cx="29.6" cy="82.2" rx="2.69" ry="3.78" fill="#ff7800"/><ellipse cx="29.6" cy="82.2" rx="2.27" ry="3.36" fill="#ff0000"/></g>
</g></g>
<rect x="0" y="0" width="97.4" height="93.5" fill="none" stroke="#666" stroke-width="0.8"/>
<line x1="2.6" y1="93.5" x2="2.6" y2="92.2" stroke="#666" stroke-width="0.5"/>
<line x1="48.7" y1="93.5" x2="48.7" y2="92.2" stroke="#666" stroke-width="0.5"/>
<line x1="94.8" y1="93.5" x2="94.8" y2="92.2" stroke="#666" stroke-width="0.5"/>
<line x1="0" y1="2.6" x2="1.3" y2="2.6" stroke="#666" stroke-width="0.5"/>
<line x1="0" y1="46.8" x2="1.3" y2="46.8" stroke="#666" stroke-width="0.5"/>
<line x1="0" y1="90.9" x2="1.3" y2="90.9" stroke="#666" stroke-width="0.5"/>
<text x="-2.2" y="3.6" text-anchor="end" font-size="3.4" fill="#555">0.08</text>
<text x="-2.2" y="48.0" text-anchor="end" font-size="3.4" fill="#555">0</text>
<text x="-2.2" y="91.9" text-anchor="end" font-size="3.4" fill="#555">-0.08</text>
<text x="2.6" y="98.4" text-anchor="middle" font-size="3.4" fill="#555">-0.08</text>
<text x="48.7" y="98.4" text-anchor="middle" font-size="3.4" fill="#555">0</text>
<text x="94.8" y="98.4" text-anchor="middle" font-size="3.4" fill="#555">0.08</text>
<text x="48.7" y="106.1" text-anchor="middle" font-size="4.6" fill="#333">X</text>
<text transform="translate(-6.2,46.8) rotate(-90)" text-anchor="middle" font-size="4.2" fill="#444">Y</text>
</g>
<rect x="503.0" y="38.95" width="18.4" height="5.25" fill="rgb(255,0,0)"/>
<rect x="503.0" y="44.10" width="18.4" height="5.25" fill="rgb(255,4,0)"/>
<rect x="503.0" y="49.26" width="18.4" height="5.25" fill="rgb(255,33,0)"/>
<rect x="503.0" y="54.41" width="18.4" height="5.25" fill="rgb(255,61,0)"/>
<rect x="503.0" y="59.57" width="18.4" height="5.25" fill="rgb(255,90,0)"/>
<rect x="503.0" y="64.72" width="18.4" height="5.25" fill="rgb(255,118,0)"/>
<rect x="503.0" y="69.88" width="18.4" height="5.25" fill="rgb(255,145,0)"/>
<rect x="503.0" y="75.03" width="18.4" height="5.25" fill="rgb(255,169,0)"/>
<rect x="503.0" y="80.19" width="18.4" height="5.25" fill="rgb(255,194,0)"/>
<rect x="503.0" y="85.34" width="18.4" height="5.25" fill="rgb(255,218,0)"/>
<rect x="503.0" y="90.50" width="18.4" height="5.25" fill="rgb(255,242,0)"/>
<rect x="503.0" y="95.65" width="18.4" height="5.25" fill="rgb(252,255,0)"/>
<rect x="503.0" y="100.81" width="18.4" height="5.25" fill="rgb(197,246,0)"/>
<rect x="503.0" y="105.96" width="18.4" height="5.25" fill="rgb(167,250,0)"/>
<rect x="503.0" y="111.12" width="18.4" height="5.25" fill="rgb(136,253,0)"/>
<rect x="503.0" y="116.27" width="18.4" height="5.25" fill="rgb(0,255,0)"/>
<rect x="503.0" y="121.43" width="18.4" height="5.25" fill="rgb(0,255,0)"/>
<rect x="503.0" y="126.58" width="18.4" height="5.25" fill="rgb(0,255,0)"/>
<rect x="503.0" y="131.74" width="18.4" height="5.25" fill="rgb(0,255,0)"/>
<rect x="503.0" y="136.89" width="18.4" height="5.25" fill="rgb(0,255,0)"/>
<rect x="503.0" y="142.05" width="18.4" height="5.25" fill="rgb(0,255,0)"/>
<rect x="503.0" y="147.20" width="18.4" height="5.25" fill="rgb(0,255,0)"/>
<rect x="503.0" y="152.35" width="18.4" height="5.25" fill="rgb(0,255,0)"/>
<rect x="503.0" y="157.51" width="18.4" height="5.25" fill="rgb(0,255,22)"/>
<rect x="503.0" y="162.66" width="18.4" height="5.25" fill="rgb(0,255,57)"/>
<rect x="503.0" y="167.82" width="18.4" height="5.25" fill="rgb(0,255,92)"/>
<rect x="503.0" y="172.97" width="18.4" height="5.25" fill="rgb(0,255,127)"/>
<rect x="503.0" y="178.13" width="18.4" height="5.25" fill="rgb(0,255,160)"/>
<rect x="503.0" y="183.28" width="18.4" height="5.25" fill="rgb(0,255,193)"/>
<rect x="503.0" y="188.44" width="18.4" height="5.25" fill="rgb(0,248,219)"/>
<rect x="503.0" y="193.59" width="18.4" height="5.25" fill="rgb(0,240,242)"/>
<rect x="503.0" y="198.75" width="18.4" height="5.25" fill="rgb(0,221,255)"/>
<rect x="503.0" y="203.90" width="18.4" height="5.25" fill="rgb(0,192,255)"/>
<rect x="503.0" y="209.06" width="18.4" height="5.25" fill="rgb(0,162,255)"/>
<rect x="503.0" y="214.21" width="18.4" height="5.25" fill="rgb(0,134,255)"/>
<rect x="503.0" y="219.37" width="18.4" height="5.25" fill="rgb(0,106,255)"/>
<rect x="503.0" y="224.52" width="18.4" height="5.25" fill="rgb(0,81,255)"/>
<rect x="503.0" y="229.68" width="18.4" height="5.25" fill="rgb(0,60,255)"/>
<rect x="503.0" y="234.83" width="18.4" height="5.25" fill="rgb(0,39,255)"/>
<rect x="503.0" y="239.99" width="18.4" height="5.25" fill="rgb(0,19,255)"/>
<rect x="503.0" y="245.14" width="18.4" height="5.25" fill="rgb(0,11,255)"/>
<rect x="503.0" y="250.30" width="18.4" height="5.25" fill="rgb(0,4,255)"/>
<line x1="521.4" y1="44.0" x2="524.4" y2="44.0" stroke="#333" stroke-width="0.7"/>
<text x="543.6" y="46.4" text-anchor="end" font-size="7.1" fill="#222">0.010</text>
<line x1="521.4" y1="69.9" x2="524.4" y2="69.9" stroke="#333" stroke-width="0.7"/>
<text x="543.6" y="72.3" text-anchor="end" font-size="7.1" fill="#222">0.008</text>
<line x1="521.4" y1="95.8" x2="524.4" y2="95.8" stroke="#333" stroke-width="0.7"/>
<text x="543.6" y="98.2" text-anchor="end" font-size="7.1" fill="#222">0.005</text>
<line x1="521.4" y1="121.6" x2="524.4" y2="121.6" stroke="#333" stroke-width="0.7"/>
<text x="543.6" y="124.0" text-anchor="end" font-size="7.1" fill="#222">0.003</text>
<line x1="521.4" y1="147.5" x2="524.4" y2="147.5" stroke="#333" stroke-width="0.7"/>
<text x="543.6" y="149.9" text-anchor="end" font-size="7.1" fill="#222">0.000</text>
<line x1="521.4" y1="173.4" x2="524.4" y2="173.4" stroke="#333" stroke-width="0.7"/>
<text x="543.6" y="175.8" text-anchor="end" font-size="7.1" fill="#222">-0.003</text>
<line x1="521.4" y1="199.2" x2="524.4" y2="199.2" stroke="#333" stroke-width="0.7"/>
<text x="543.6" y="201.7" text-anchor="end" font-size="7.1" fill="#222">-0.005</text>
<line x1="521.4" y1="225.1" x2="524.4" y2="225.1" stroke="#333" stroke-width="0.7"/>
<text x="543.6" y="227.5" text-anchor="end" font-size="7.1" fill="#222">-0.008</text>
<line x1="521.4" y1="251.0" x2="524.4" y2="251.0" stroke="#333" stroke-width="0.7"/>
<text x="543.6" y="253.4" text-anchor="end" font-size="7.1" fill="#222">-0.010</text>
<path d="M65.6,36.5 V31 Q65.6,28.5 68.2,28.5 H492.2 Q494.8,28.5 494.8,31 V36.5 M279.7,28.5 V20.5" fill="none" stroke="#ff2020" stroke-width="0.9"/>
<text x="288.4" y="17.6" text-anchor="middle" font-size="14.6" fill="#111">A cycle of change</text>
<text x="115.5" y="156.0" text-anchor="middle" font-size="7.7" font-weight="bold" fill="#1a1a1a">0 T</text>
<text x="224.4" y="156.0" text-anchor="middle" font-size="7.7" font-weight="bold" fill="#1a1a1a">25% T</text>
<text x="338.1" y="156.0" text-anchor="middle" font-size="7.7" font-weight="bold" fill="#1a1a1a">50% T</text>
<text x="446.8" y="156.0" text-anchor="middle" font-size="7.7" font-weight="bold" fill="#1a1a1a">75% T</text>
<text x="115.7" y="279.3" text-anchor="middle" font-size="8.0" fill="#1a1a1a">100%T</text>
<text x="225.9" y="279.3" text-anchor="middle" font-size="8.0" fill="#1a1a1a">125%T</text>
<text x="339.8" y="279.3" text-anchor="middle" font-size="8.0" fill="#1a1a1a">150%T</text>
<text x="448.4" y="279.3" text-anchor="middle" font-size="8.0" fill="#1a1a1a">175% T</text>
<ellipse cx="74.3" cy="93.5" rx="12.9" ry="16.8" fill="none" stroke="#ee1c1c" stroke-width="0.8"/>
<ellipse cx="292" cy="85" rx="12.9" ry="16.8" fill="none" stroke="#ee1c1c" stroke-width="0.8"/>
<line x1="64.6" y1="104" x2="28.8" y2="132" stroke="#ff1a1a" stroke-width="0.8" marker-end="url(#ah)"/>
<line x1="280" y1="92" x2="57.1" y2="153.6" stroke="#ff1a1a" stroke-width="0.8" marker-end="url(#ah)"/>
<circle cx="227.4" cy="197.4" r="6.6" fill="none" stroke="#c8281a" stroke-width="0.8"/>
<circle cx="226.7" cy="217.3" r="6.6" fill="none" stroke="#c8281a" stroke-width="0.8"/>
<ellipse cx="223.4" cy="235.8" rx="7" ry="6.2" fill="none" stroke="#c8281a" stroke-width="0.8"/>
<line x1="231.8" y1="202.4" x2="250.6" y2="228.4" stroke="#c8281a" stroke-width="0.8" marker-end="url(#ah2)"/>
<line x1="232.6" y1="220.4" x2="250.6" y2="232.6" stroke="#c8281a" stroke-width="0.8" marker-end="url(#ah2)"/>
<line x1="230.4" y1="237.4" x2="249.2" y2="237.9" stroke="#c8281a" stroke-width="0.8" marker-end="url(#ah2)"/>
<text x="254.4" y="231" font-size="8.2" fill="#1a1a1a">Caused</text>
<text x="254.4" y="240.2" font-size="8.2" fill="#1a1a1a">by 8<tspan font-style="italic">f</tspan><tspan font-size="5.4" dy="1.6">s</tspan></text>
<text x="4.2" y="142.5" font-size="7.95" fill="#1a1a1a">The</text><text x="52.6" y="142.5" text-anchor="end" font-size="7.95" fill="#1a1a1a">structure</text>
<text x="4.2" y="152.0" font-size="7.95" fill="#1a1a1a" textLength="48.4" lengthAdjust="spacing">is similar, but</text>
<text x="4.2" y="161.7" font-size="7.95" fill="#1a1a1a">the</text><text x="52.6" y="161.7" text-anchor="end" font-size="7.95" fill="#1a1a1a">amplitude</text>
<text x="4.2" y="171.4" font-size="7.95" fill="#1a1a1a">is different</text>
</svg>
</body></html>
